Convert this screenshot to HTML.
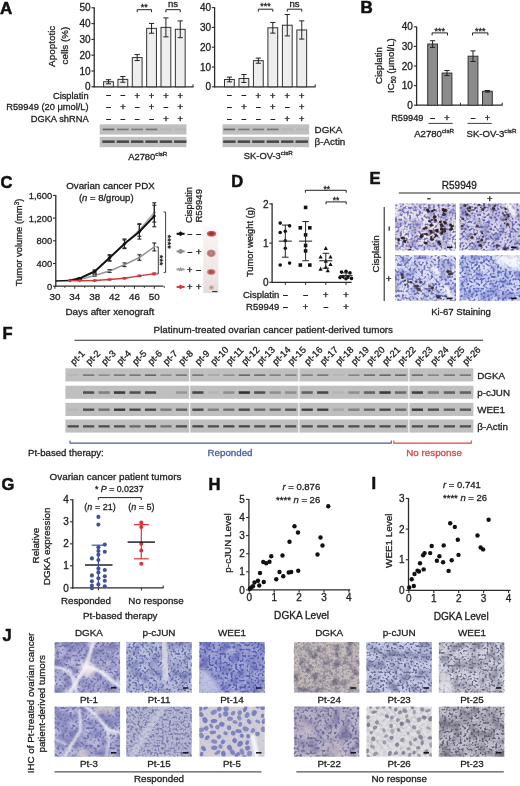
<!DOCTYPE html><html><head><meta charset="utf-8"><title>Figure</title><style>html,body{margin:0;padding:0;background:#fff;width:520px;height:786px;overflow:hidden}svg{display:block}</style></head><body><svg width="520" height="786" viewBox="0 0 520 786" font-family='"Liberation Sans", Arial, sans-serif' fill="#222"><defs><filter id="t1" x="0" y="0" width="1" height="1" color-interpolation-filters="sRGB"><feTurbulence type="fractalNoise" baseFrequency="0.42" numOctaves="1" seed="3" result="nL0"/><feColorMatrix in="nL0" type="matrix" values="0 0 0 0 0.314 0 0 0 0 0.345 0 0 0 0 0.686 5.5 0 0 0 -2.6" result="L0"/><feTurbulence type="fractalNoise" baseFrequency="0.1" numOctaves="2" seed="53" result="nL1"/><feColorMatrix in="nL1" type="matrix" values="0 0 0 0 0.314 0 0 0 0 0.345 0 0 0 0 0.686 1.5 0 0 0 -0.6" result="L1"/><feMerge result="m"><feMergeNode in="SourceGraphic"/><feMergeNode in="L0"/><feMergeNode in="L1"/></feMerge><feGaussianBlur in="m" stdDeviation="0.55"/></filter><clipPath id="c1"><rect x="395.00" y="203.40" width="61.00" height="47.00"/></clipPath><filter id="ct1" x="0" y="0" width="1" height="1" color-interpolation-filters="sRGB"><feComponentTransfer><feFuncR type="linear" slope="0.8" intercept="0.1979"/><feFuncG type="linear" slope="0.8" intercept="0.1756"/><feFuncB type="linear" slope="0.8" intercept="0.1699"/></feComponentTransfer></filter><filter id="t2" x="0" y="0" width="1" height="1" color-interpolation-filters="sRGB"><feTurbulence type="fractalNoise" baseFrequency="0.42" numOctaves="1" seed="5" result="nL0"/><feColorMatrix in="nL0" type="matrix" values="0 0 0 0 0.314 0 0 0 0 0.345 0 0 0 0 0.686 5.5 0 0 0 -2.6" result="L0"/><feTurbulence type="fractalNoise" baseFrequency="0.1" numOctaves="2" seed="55" result="nL1"/><feColorMatrix in="nL1" type="matrix" values="0 0 0 0 0.314 0 0 0 0 0.345 0 0 0 0 0.686 1.5 0 0 0 -0.6" result="L1"/><feMerge result="m"><feMergeNode in="SourceGraphic"/><feMergeNode in="L0"/><feMergeNode in="L1"/></feMerge><feGaussianBlur in="m" stdDeviation="0.55"/></filter><clipPath id="c2"><rect x="459.40" y="203.40" width="60.60" height="47.00"/></clipPath><filter id="ct2" x="0" y="0" width="1" height="1" color-interpolation-filters="sRGB"><feComponentTransfer><feFuncR type="linear" slope="0.8" intercept="0.1463"/><feFuncG type="linear" slope="0.8" intercept="0.1244"/><feFuncB type="linear" slope="0.8" intercept="0.1483"/></feComponentTransfer></filter><filter id="t3" x="0" y="0" width="1" height="1" color-interpolation-filters="sRGB"><feTurbulence type="fractalNoise" baseFrequency="0.42" numOctaves="1" seed="8" result="nL0"/><feColorMatrix in="nL0" type="matrix" values="0 0 0 0 0.314 0 0 0 0 0.345 0 0 0 0 0.686 5.5 0 0 0 -2.6" result="L0"/><feTurbulence type="fractalNoise" baseFrequency="0.1" numOctaves="2" seed="58" result="nL1"/><feColorMatrix in="nL1" type="matrix" values="0 0 0 0 0.314 0 0 0 0 0.345 0 0 0 0 0.686 1.5 0 0 0 -0.6" result="L1"/><feMerge result="m"><feMergeNode in="SourceGraphic"/><feMergeNode in="L0"/><feMergeNode in="L1"/></feMerge><feGaussianBlur in="m" stdDeviation="0.55"/></filter><clipPath id="c3"><rect x="395.00" y="255.20" width="61.00" height="45.60"/></clipPath><filter id="ct3" x="0" y="0" width="1" height="1" color-interpolation-filters="sRGB"><feComponentTransfer><feFuncR type="linear" slope="0.8" intercept="0.1682"/><feFuncG type="linear" slope="0.8" intercept="0.1696"/><feFuncB type="linear" slope="0.8" intercept="0.1915"/></feComponentTransfer></filter><filter id="t4" x="0" y="0" width="1" height="1" color-interpolation-filters="sRGB"><feTurbulence type="fractalNoise" baseFrequency="0.42" numOctaves="1" seed="9" result="nL0"/><feColorMatrix in="nL0" type="matrix" values="0 0 0 0 0.314 0 0 0 0 0.345 0 0 0 0 0.686 5.5 0 0 0 -2.6" result="L0"/><feTurbulence type="fractalNoise" baseFrequency="0.1" numOctaves="2" seed="59" result="nL1"/><feColorMatrix in="nL1" type="matrix" values="0 0 0 0 0.314 0 0 0 0 0.345 0 0 0 0 0.686 1.5 0 0 0 -0.6" result="L1"/><feMerge result="m"><feMergeNode in="SourceGraphic"/><feMergeNode in="L0"/><feMergeNode in="L1"/></feMerge><feGaussianBlur in="m" stdDeviation="0.55"/></filter><clipPath id="c4"><rect x="459.40" y="255.20" width="60.60" height="45.60"/></clipPath><filter id="ct4" x="0" y="0" width="1" height="1" color-interpolation-filters="sRGB"><feComponentTransfer><feFuncR type="linear" slope="0.8" intercept="0.1179"/><feFuncG type="linear" slope="0.8" intercept="0.1370"/><feFuncB type="linear" slope="0.8" intercept="0.1938"/></feComponentTransfer></filter><filter id="t5" x="0" y="0" width="1" height="1" color-interpolation-filters="sRGB"><feTurbulence type="fractalNoise" baseFrequency="0.07" numOctaves="2" seed="51" result="nL0"/><feColorMatrix in="nL0" type="matrix" values="0 0 0 0 0.412 0 0 0 0 0.412 0 0 0 0 0.647 2.2 0 0 0 -0.9" result="L0"/><feTurbulence type="fractalNoise" baseFrequency="0.42" numOctaves="1" seed="21" result="nL1"/><feColorMatrix in="nL1" type="matrix" values="0 0 0 0 0.275 0 0 0 0 0.282 0 0 0 0 0.549 6.0 0 0 0 -3.0" result="L1"/><feTurbulence type="fractalNoise" baseFrequency="0.1" numOctaves="2" seed="121" result="nL2"/><feColorMatrix in="nL2" type="matrix" values="0 0 0 0 0.275 0 0 0 0 0.282 0 0 0 0 0.549 1.8 0 0 0 -0.7" result="L2"/><feMerge result="m"><feMergeNode in="SourceGraphic"/><feMergeNode in="L0"/><feMergeNode in="L1"/><feMergeNode in="L2"/></feMerge><feGaussianBlur in="m" stdDeviation="0.5"/></filter><clipPath id="c5"><rect x="54.50" y="642.10" width="65.60" height="50.70"/></clipPath><filter id="ct5" x="0" y="0" width="1" height="1" color-interpolation-filters="sRGB"><feComponentTransfer><feFuncR type="linear" slope="0.62" intercept="0.2693"/><feFuncG type="linear" slope="0.62" intercept="0.2664"/><feFuncB type="linear" slope="0.62" intercept="0.3271"/></feComponentTransfer></filter><filter id="t6" x="0" y="0" width="1" height="1" color-interpolation-filters="sRGB"><feTurbulence type="fractalNoise" baseFrequency="0.45" numOctaves="1" seed="22" result="nL0"/><feColorMatrix in="nL0" type="matrix" values="0 0 0 0 0.235 0 0 0 0 0.267 0 0 0 0 0.549 6.0 0 0 0 -3.0" result="L0"/><feTurbulence type="fractalNoise" baseFrequency="0.1" numOctaves="2" seed="122" result="nL1"/><feColorMatrix in="nL1" type="matrix" values="0 0 0 0 0.235 0 0 0 0 0.267 0 0 0 0 0.549 1.8 0 0 0 -0.7" result="L1"/><feMerge result="m"><feMergeNode in="SourceGraphic"/><feMergeNode in="L0"/><feMergeNode in="L1"/></feMerge><feGaussianBlur in="m" stdDeviation="0.5"/></filter><clipPath id="c6"><rect x="126.20" y="642.10" width="65.60" height="50.70"/></clipPath><filter id="ct6" x="0" y="0" width="1" height="1" color-interpolation-filters="sRGB"><feComponentTransfer><feFuncR type="linear" slope="0.62" intercept="0.2511"/><feFuncG type="linear" slope="0.62" intercept="0.2583"/><feFuncB type="linear" slope="0.62" intercept="0.3199"/></feComponentTransfer></filter><filter id="t7" x="0" y="0" width="1" height="1" color-interpolation-filters="sRGB"><feTurbulence type="fractalNoise" baseFrequency="0.45" numOctaves="1" seed="23" result="nL0"/><feColorMatrix in="nL0" type="matrix" values="0 0 0 0 0.235 0 0 0 0 0.267 0 0 0 0 0.647 6.0 0 0 0 -3.0" result="L0"/><feTurbulence type="fractalNoise" baseFrequency="0.1" numOctaves="2" seed="123" result="nL1"/><feColorMatrix in="nL1" type="matrix" values="0 0 0 0 0.235 0 0 0 0 0.267 0 0 0 0 0.647 1.8 0 0 0 -0.7" result="L1"/><feMerge result="m"><feMergeNode in="SourceGraphic"/><feMergeNode in="L0"/><feMergeNode in="L1"/></feMerge><feGaussianBlur in="m" stdDeviation="0.5"/></filter><clipPath id="c7"><rect x="199.20" y="642.10" width="65.60" height="50.70"/></clipPath><filter id="ct7" x="0" y="0" width="1" height="1" color-interpolation-filters="sRGB"><feComponentTransfer><feFuncR type="linear" slope="0.62" intercept="0.1947"/><feFuncG type="linear" slope="0.62" intercept="0.1990"/><feFuncB type="linear" slope="0.62" intercept="0.2865"/></feComponentTransfer></filter><filter id="t8" x="0" y="0" width="1" height="1" color-interpolation-filters="sRGB"><feTurbulence type="fractalNoise" baseFrequency="0.15" numOctaves="3" seed="24" result="nL0"/><feColorMatrix in="nL0" type="matrix" values="0 0 0 0 0.463 0 0 0 0 0.424 0 0 0 0 0.518 3.4 0 0 0 -1.55" result="L0"/><feTurbulence type="fractalNoise" baseFrequency="0.45" numOctaves="2" seed="34" result="nL1"/><feColorMatrix in="nL1" type="matrix" values="0 0 0 0 0.549 0 0 0 0 0.510 0 0 0 0 0.569 3.0 0 0 0 -1.45" result="L1"/><feMerge result="m"><feMergeNode in="SourceGraphic"/><feMergeNode in="L0"/><feMergeNode in="L1"/></feMerge><feGaussianBlur in="m" stdDeviation="0.5"/></filter><clipPath id="c8"><rect x="293.80" y="642.10" width="65.60" height="50.70"/></clipPath><filter id="ct8" x="0" y="0" width="1" height="1" color-interpolation-filters="sRGB"><feComponentTransfer><feFuncR type="linear" slope="0.8" intercept="0.0886"/><feFuncG type="linear" slope="0.8" intercept="0.0961"/><feFuncB type="linear" slope="0.8" intercept="0.1113"/></feComponentTransfer></filter><filter id="t9" x="0" y="0" width="1" height="1" color-interpolation-filters="sRGB"><feTurbulence type="fractalNoise" baseFrequency="0.46" numOctaves="1" seed="25" result="nL0"/><feColorMatrix in="nL0" type="matrix" values="0 0 0 0 0.196 0 0 0 0 0.216 0 0 0 0 0.392 6.0 0 0 0 -3.0" result="L0"/><feTurbulence type="fractalNoise" baseFrequency="0.1" numOctaves="2" seed="125" result="nL1"/><feColorMatrix in="nL1" type="matrix" values="0 0 0 0 0.196 0 0 0 0 0.216 0 0 0 0 0.392 1.8 0 0 0 -0.7" result="L1"/><feMerge result="m"><feMergeNode in="SourceGraphic"/><feMergeNode in="L0"/><feMergeNode in="L1"/></feMerge><feGaussianBlur in="m" stdDeviation="0.5"/></filter><clipPath id="c9"><rect x="366.30" y="642.10" width="65.60" height="50.70"/></clipPath><filter id="ct9" x="0" y="0" width="1" height="1" color-interpolation-filters="sRGB"><feComponentTransfer><feFuncR type="linear" slope="0.62" intercept="0.2820"/><feFuncG type="linear" slope="0.62" intercept="0.2870"/><feFuncB type="linear" slope="0.62" intercept="0.3382"/></feComponentTransfer></filter><filter id="t10" x="0" y="0" width="1" height="1" color-interpolation-filters="sRGB"><feTurbulence type="fractalNoise" baseFrequency="0.46" numOctaves="1" seed="26" result="nL0"/><feColorMatrix in="nL0" type="matrix" values="0 0 0 0 0.196 0 0 0 0 0.196 0 0 0 0 0.275 6.0 0 0 0 -3.0" result="L0"/><feTurbulence type="fractalNoise" baseFrequency="0.1" numOctaves="2" seed="126" result="nL1"/><feColorMatrix in="nL1" type="matrix" values="0 0 0 0 0.196 0 0 0 0 0.196 0 0 0 0 0.275 1.8 0 0 0 -0.7" result="L1"/><feMerge result="m"><feMergeNode in="SourceGraphic"/><feMergeNode in="L0"/><feMergeNode in="L1"/></feMerge><feGaussianBlur in="m" stdDeviation="0.5"/></filter><clipPath id="c10"><rect x="438.80" y="642.10" width="65.60" height="50.70"/></clipPath><filter id="ct10" x="0" y="0" width="1" height="1" color-interpolation-filters="sRGB"><feComponentTransfer><feFuncR type="linear" slope="0.62" intercept="0.3072"/><feFuncG type="linear" slope="0.62" intercept="0.3072"/><feFuncB type="linear" slope="0.62" intercept="0.3434"/></feComponentTransfer></filter><filter id="t11" x="0" y="0" width="1" height="1" color-interpolation-filters="sRGB"><feTurbulence type="fractalNoise" baseFrequency="0.07" numOctaves="2" seed="52" result="nL0"/><feColorMatrix in="nL0" type="matrix" values="0 0 0 0 0.412 0 0 0 0 0.412 0 0 0 0 0.667 2.2 0 0 0 -0.9" result="L0"/><feTurbulence type="fractalNoise" baseFrequency="0.4" numOctaves="1" seed="27" result="nL1"/><feColorMatrix in="nL1" type="matrix" values="0 0 0 0 0.294 0 0 0 0 0.306 0 0 0 0 0.588 6.0 0 0 0 -3.0" result="L1"/><feTurbulence type="fractalNoise" baseFrequency="0.1" numOctaves="2" seed="127" result="nL2"/><feColorMatrix in="nL2" type="matrix" values="0 0 0 0 0.294 0 0 0 0 0.306 0 0 0 0 0.588 1.8 0 0 0 -0.7" result="L2"/><feMerge result="m"><feMergeNode in="SourceGraphic"/><feMergeNode in="L0"/><feMergeNode in="L1"/><feMergeNode in="L2"/></feMerge><feGaussianBlur in="m" stdDeviation="0.5"/></filter><clipPath id="c11"><rect x="54.50" y="706.40" width="65.60" height="50.40"/></clipPath><filter id="ct11" x="0" y="0" width="1" height="1" color-interpolation-filters="sRGB"><feComponentTransfer><feFuncR type="linear" slope="0.62" intercept="0.2645"/><feFuncG type="linear" slope="0.62" intercept="0.2643"/><feFuncB type="linear" slope="0.62" intercept="0.3197"/></feComponentTransfer></filter><filter id="t12" x="0" y="0" width="1" height="1" color-interpolation-filters="sRGB"><feTurbulence type="fractalNoise" baseFrequency="0.42" numOctaves="2" seed="28" result="nL0"/><feColorMatrix in="nL0" type="matrix" values="0 0 0 0 0.373 0 0 0 0 0.392 0 0 0 0 0.608 3.4 0 0 0 -1.5" result="L0"/><feMerge result="m"><feMergeNode in="SourceGraphic"/><feMergeNode in="L0"/></feMerge><feGaussianBlur in="m" stdDeviation="0.5"/></filter><clipPath id="c12"><rect x="126.20" y="706.40" width="65.60" height="50.40"/></clipPath><filter id="ct12" x="0" y="0" width="1" height="1" color-interpolation-filters="sRGB"><feComponentTransfer><feFuncR type="linear" slope="0.62" intercept="0.2235"/><feFuncG type="linear" slope="0.62" intercept="0.2262"/><feFuncB type="linear" slope="0.62" intercept="0.2850"/></feComponentTransfer></filter><filter id="t13" x="0" y="0" width="1" height="1" color-interpolation-filters="sRGB"><feTurbulence type="fractalNoise" baseFrequency="0.45" numOctaves="2" seed="39" result="nL0"/><feColorMatrix in="nL0" type="matrix" values="0 0 0 0 0.784 0 0 0 0 0.765 0 0 0 0 0.804 2.0 0 0 0 -0.9" result="L0"/><feMerge result="m"><feMergeNode in="SourceGraphic"/><feMergeNode in="L0"/></feMerge><feGaussianBlur in="m" stdDeviation="0.5"/></filter><clipPath id="c13"><rect x="199.20" y="706.40" width="65.60" height="50.40"/></clipPath><filter id="ct13" x="0" y="0" width="1" height="1" color-interpolation-filters="sRGB"><feComponentTransfer><feFuncR type="linear" slope="0.85" intercept="0.0924"/><feFuncG type="linear" slope="0.85" intercept="0.0943"/><feFuncB type="linear" slope="0.85" intercept="0.1246"/></feComponentTransfer></filter><filter id="t14" x="0" y="0" width="1" height="1" color-interpolation-filters="sRGB"><feTurbulence type="fractalNoise" baseFrequency="0.4" numOctaves="1" seed="30" result="nL0"/><feColorMatrix in="nL0" type="matrix" values="0 0 0 0 0.314 0 0 0 0 0.306 0 0 0 0 0.529 6.0 0 0 0 -3.0" result="L0"/><feTurbulence type="fractalNoise" baseFrequency="0.1" numOctaves="2" seed="130" result="nL1"/><feColorMatrix in="nL1" type="matrix" values="0 0 0 0 0.314 0 0 0 0 0.306 0 0 0 0 0.529 1.8 0 0 0 -0.7" result="L1"/><feMerge result="m"><feMergeNode in="SourceGraphic"/><feMergeNode in="L0"/><feMergeNode in="L1"/></feMerge><feGaussianBlur in="m" stdDeviation="0.5"/></filter><clipPath id="c14"><rect x="293.80" y="706.40" width="65.60" height="50.40"/></clipPath><filter id="ct14" x="0" y="0" width="1" height="1" color-interpolation-filters="sRGB"><feComponentTransfer><feFuncR type="linear" slope="0.62" intercept="0.2499"/><feFuncG type="linear" slope="0.62" intercept="0.2410"/><feFuncB type="linear" slope="0.62" intercept="0.2760"/></feComponentTransfer></filter><filter id="t15" x="0" y="0" width="1" height="1" color-interpolation-filters="sRGB"><feTurbulence type="fractalNoise" baseFrequency="0.3" numOctaves="2" seed="31" result="nL0"/><feColorMatrix in="nL0" type="matrix" values="0 0 0 0 0.745 0 0 0 0 0.745 0 0 0 0 0.784 2.0 0 0 0 -0.8" result="L0"/><feMerge result="m"><feMergeNode in="SourceGraphic"/><feMergeNode in="L0"/></feMerge><feGaussianBlur in="m" stdDeviation="0.5"/></filter><clipPath id="c15"><rect x="366.30" y="706.40" width="65.60" height="50.40"/></clipPath><filter id="ct15" x="0" y="0" width="1" height="1" color-interpolation-filters="sRGB"><feComponentTransfer><feFuncR type="linear" slope="0.85" intercept="0.0957"/><feFuncG type="linear" slope="0.85" intercept="0.0957"/><feFuncB type="linear" slope="0.85" intercept="0.0976"/></feComponentTransfer></filter><filter id="t16" x="0" y="0" width="1" height="1" color-interpolation-filters="sRGB"><feTurbulence type="fractalNoise" baseFrequency="0.45" numOctaves="1" seed="32" result="nL0"/><feColorMatrix in="nL0" type="matrix" values="0 0 0 0 0.216 0 0 0 0 0.196 0 0 0 0 0.275 6.0 0 0 0 -3.0" result="L0"/><feTurbulence type="fractalNoise" baseFrequency="0.1" numOctaves="2" seed="132" result="nL1"/><feColorMatrix in="nL1" type="matrix" values="0 0 0 0 0.216 0 0 0 0 0.196 0 0 0 0 0.275 1.8 0 0 0 -0.7" result="L1"/><feMerge result="m"><feMergeNode in="SourceGraphic"/><feMergeNode in="L0"/><feMergeNode in="L1"/></feMerge><feGaussianBlur in="m" stdDeviation="0.5"/></filter><clipPath id="c16"><rect x="438.80" y="706.40" width="65.60" height="50.40"/></clipPath><filter id="ct16" x="0" y="0" width="1" height="1" color-interpolation-filters="sRGB"><feComponentTransfer><feFuncR type="linear" slope="0.62" intercept="0.2567"/><feFuncG type="linear" slope="0.62" intercept="0.2542"/><feFuncB type="linear" slope="0.62" intercept="0.2801"/></feComponentTransfer></filter><filter id="bl" x="-5%" y="-20%" width="110%" height="140%"><feGaussianBlur stdDeviation="0.35"/></filter><filter id="bb" x="-30%" y="-150%" width="160%" height="400%"><feGaussianBlur stdDeviation="0.55 0.45"/></filter><filter id="sblur" x="-50%" y="-50%" width="200%" height="200%"><feGaussianBlur stdDeviation="0.8"/></filter><filter id="nblur" x="-10%" y="-10%" width="120%" height="120%"><feGaussianBlur stdDeviation="0.35"/></filter><filter id="pblur" x="-50%" y="-50%" width="200%" height="200%"><feGaussianBlur stdDeviation="2"/></filter><linearGradient id="strip" x1="0" y1="0" x2="0" y2="1"><stop offset="0" stop-color="#fdfafa"/><stop offset="0.2" stop-color="#f8f1f0"/><stop offset="0.75" stop-color="#eee6e4"/><stop offset="1" stop-color="#e2dbe0"/></linearGradient><radialGradient id="tum1"><stop offset="0" stop-color="#9a2020"/><stop offset="0.6" stop-color="#b84040"/><stop offset="1" stop-color="#d08080"/></radialGradient><radialGradient id="tum2"><stop offset="0" stop-color="#c89090"/><stop offset="0.6" stop-color="#b57070"/><stop offset="1" stop-color="#caa0a0"/></radialGradient><radialGradient id="tum3"><stop offset="0" stop-color="#a84040"/><stop offset="0.6" stop-color="#bb5a5a"/><stop offset="1" stop-color="#d49a9a"/></radialGradient><radialGradient id="tum4"><stop offset="0" stop-color="#b89070"/><stop offset="1" stop-color="#dcc0a8"/></radialGradient></defs><text x="0.00" y="14.20" font-size="17" fill="#111" stroke="#111" stroke-width="0.55" font-weight="bold">A</text>
<text x="54.70" y="46.30" font-size="9.9" text-anchor="middle" stroke="#222" stroke-width="0.3" transform="rotate(-90 54.70 46.30)">Apoptotic</text>
<text x="68.00" y="45.60" font-size="9.8" text-anchor="middle" stroke="#222" stroke-width="0.3" transform="rotate(-90 68.00 45.60)">cells (%)</text>
<line x1="94.20" y1="7.20" x2="94.20" y2="87.30" stroke="#2a2a2a" stroke-width="1.3"/>
<line x1="93.60" y1="86.80" x2="193.50" y2="86.80" stroke="#2a2a2a" stroke-width="1.3"/>
<line x1="193.00" y1="86.80" x2="193.00" y2="84.30" stroke="#2a2a2a" stroke-width="1"/>
<line x1="91.40" y1="86.80" x2="94.20" y2="86.80" stroke="#2a2a2a" stroke-width="1.1"/>
<text x="90.60" y="90.40" font-size="10" text-anchor="end" stroke="#222" stroke-width="0.3">0</text>
<line x1="91.40" y1="71.00" x2="94.20" y2="71.00" stroke="#2a2a2a" stroke-width="1.1"/>
<text x="90.60" y="74.60" font-size="10" text-anchor="end" stroke="#222" stroke-width="0.3">10</text>
<line x1="91.40" y1="55.20" x2="94.20" y2="55.20" stroke="#2a2a2a" stroke-width="1.1"/>
<text x="90.60" y="58.80" font-size="10" text-anchor="end" stroke="#222" stroke-width="0.3">20</text>
<line x1="91.40" y1="39.40" x2="94.20" y2="39.40" stroke="#2a2a2a" stroke-width="1.1"/>
<text x="90.60" y="43.00" font-size="10" text-anchor="end" stroke="#222" stroke-width="0.3">30</text>
<line x1="91.40" y1="23.60" x2="94.20" y2="23.60" stroke="#2a2a2a" stroke-width="1.1"/>
<text x="90.60" y="27.20" font-size="10" text-anchor="end" stroke="#222" stroke-width="0.3">40</text>
<line x1="91.40" y1="7.80" x2="94.20" y2="7.80" stroke="#2a2a2a" stroke-width="1.1"/>
<text x="90.60" y="11.40" font-size="10" text-anchor="end" stroke="#222" stroke-width="0.3">50</text>
<rect x="103.60" y="81.74" width="9.80" height="5.06" fill="#eeeeee" stroke="#333" stroke-width="1"/>
<line x1="108.50" y1="79.69" x2="108.50" y2="83.80" stroke="#222" stroke-width="1"/>
<line x1="105.90" y1="79.69" x2="111.10" y2="79.69" stroke="#222" stroke-width="1"/>
<line x1="105.90" y1="83.80" x2="111.10" y2="83.80" stroke="#222" stroke-width="1"/>
<rect x="117.95" y="79.37" width="9.80" height="7.43" fill="#eeeeee" stroke="#333" stroke-width="1"/>
<line x1="122.85" y1="76.53" x2="122.85" y2="82.22" stroke="#222" stroke-width="1"/>
<line x1="120.25" y1="76.53" x2="125.45" y2="76.53" stroke="#222" stroke-width="1"/>
<line x1="120.25" y1="82.22" x2="125.45" y2="82.22" stroke="#222" stroke-width="1"/>
<rect x="132.30" y="57.57" width="9.80" height="29.23" fill="#eeeeee" stroke="#333" stroke-width="1"/>
<line x1="137.20" y1="54.57" x2="137.20" y2="60.57" stroke="#222" stroke-width="1"/>
<line x1="134.60" y1="54.57" x2="139.80" y2="54.57" stroke="#222" stroke-width="1"/>
<line x1="134.60" y1="60.57" x2="139.80" y2="60.57" stroke="#222" stroke-width="1"/>
<rect x="146.65" y="28.34" width="9.80" height="58.46" fill="#eeeeee" stroke="#333" stroke-width="1"/>
<line x1="151.55" y1="23.44" x2="151.55" y2="33.24" stroke="#222" stroke-width="1"/>
<line x1="148.95" y1="23.44" x2="154.15" y2="23.44" stroke="#222" stroke-width="1"/>
<line x1="148.95" y1="33.24" x2="154.15" y2="33.24" stroke="#222" stroke-width="1"/>
<rect x="161.00" y="27.39" width="9.80" height="59.41" fill="#eeeeee" stroke="#333" stroke-width="1"/>
<line x1="165.90" y1="17.91" x2="165.90" y2="36.87" stroke="#222" stroke-width="1"/>
<line x1="163.30" y1="17.91" x2="168.50" y2="17.91" stroke="#222" stroke-width="1"/>
<line x1="163.30" y1="36.87" x2="168.50" y2="36.87" stroke="#222" stroke-width="1"/>
<rect x="175.35" y="29.29" width="9.80" height="57.51" fill="#eeeeee" stroke="#333" stroke-width="1"/>
<line x1="180.25" y1="20.91" x2="180.25" y2="37.66" stroke="#222" stroke-width="1"/>
<line x1="177.65" y1="20.91" x2="182.85" y2="20.91" stroke="#222" stroke-width="1"/>
<line x1="177.65" y1="37.66" x2="182.85" y2="37.66" stroke="#222" stroke-width="1"/>
<polyline points="137.20,12.20 137.20,9.70 151.55,9.70 151.55,12.20" fill="none" stroke="#222" stroke-width="1"/>
<text x="144.38" y="9.80" font-size="9" text-anchor="middle" stroke="#222" stroke-width="0.3">**</text>
<polyline points="165.90,12.20 165.90,9.70 180.25,9.70 180.25,12.20" fill="none" stroke="#222" stroke-width="1"/>
<text x="173.07" y="7.30" font-size="9.6" text-anchor="middle" stroke="#222" stroke-width="0.3">ns</text>
<line x1="214.60" y1="7.20" x2="214.60" y2="87.30" stroke="#2a2a2a" stroke-width="1.3"/>
<line x1="214.00" y1="86.80" x2="315.60" y2="86.80" stroke="#2a2a2a" stroke-width="1.3"/>
<line x1="315.20" y1="86.80" x2="315.20" y2="84.30" stroke="#2a2a2a" stroke-width="1"/>
<line x1="211.80" y1="86.80" x2="214.60" y2="86.80" stroke="#2a2a2a" stroke-width="1.1"/>
<text x="211.00" y="90.40" font-size="10" text-anchor="end" stroke="#222" stroke-width="0.3">0</text>
<line x1="211.80" y1="67.00" x2="214.60" y2="67.00" stroke="#2a2a2a" stroke-width="1.1"/>
<text x="211.00" y="70.60" font-size="10" text-anchor="end" stroke="#222" stroke-width="0.3">10</text>
<line x1="211.80" y1="47.20" x2="214.60" y2="47.20" stroke="#2a2a2a" stroke-width="1.1"/>
<text x="211.00" y="50.80" font-size="10" text-anchor="end" stroke="#222" stroke-width="0.3">20</text>
<line x1="211.80" y1="27.40" x2="214.60" y2="27.40" stroke="#2a2a2a" stroke-width="1.1"/>
<text x="211.00" y="31.00" font-size="10" text-anchor="end" stroke="#222" stroke-width="0.3">30</text>
<line x1="211.80" y1="7.60" x2="214.60" y2="7.60" stroke="#2a2a2a" stroke-width="1.1"/>
<text x="211.00" y="11.20" font-size="10" text-anchor="end" stroke="#222" stroke-width="0.3">40</text>
<rect x="224.50" y="79.47" width="9.80" height="7.33" fill="#eeeeee" stroke="#333" stroke-width="1"/>
<line x1="229.40" y1="77.10" x2="229.40" y2="81.85" stroke="#222" stroke-width="1"/>
<line x1="226.80" y1="77.10" x2="232.00" y2="77.10" stroke="#222" stroke-width="1"/>
<line x1="226.80" y1="81.85" x2="232.00" y2="81.85" stroke="#222" stroke-width="1"/>
<rect x="238.97" y="78.48" width="9.80" height="8.32" fill="#eeeeee" stroke="#333" stroke-width="1"/>
<line x1="243.87" y1="74.52" x2="243.87" y2="82.44" stroke="#222" stroke-width="1"/>
<line x1="241.27" y1="74.52" x2="246.47" y2="74.52" stroke="#222" stroke-width="1"/>
<line x1="241.27" y1="82.44" x2="246.47" y2="82.44" stroke="#222" stroke-width="1"/>
<rect x="253.44" y="60.66" width="9.80" height="26.14" fill="#eeeeee" stroke="#333" stroke-width="1"/>
<line x1="258.34" y1="58.09" x2="258.34" y2="63.24" stroke="#222" stroke-width="1"/>
<line x1="255.74" y1="58.09" x2="260.94" y2="58.09" stroke="#222" stroke-width="1"/>
<line x1="255.74" y1="63.24" x2="260.94" y2="63.24" stroke="#222" stroke-width="1"/>
<rect x="267.91" y="27.80" width="9.80" height="59.00" fill="#eeeeee" stroke="#333" stroke-width="1"/>
<line x1="272.81" y1="22.45" x2="272.81" y2="33.14" stroke="#222" stroke-width="1"/>
<line x1="270.21" y1="22.45" x2="275.41" y2="22.45" stroke="#222" stroke-width="1"/>
<line x1="270.21" y1="33.14" x2="275.41" y2="33.14" stroke="#222" stroke-width="1"/>
<rect x="282.38" y="25.22" width="9.80" height="61.58" fill="#eeeeee" stroke="#333" stroke-width="1"/>
<line x1="287.28" y1="14.53" x2="287.28" y2="35.91" stroke="#222" stroke-width="1"/>
<line x1="284.68" y1="14.53" x2="289.88" y2="14.53" stroke="#222" stroke-width="1"/>
<line x1="284.68" y1="35.91" x2="289.88" y2="35.91" stroke="#222" stroke-width="1"/>
<rect x="296.85" y="29.97" width="9.80" height="56.83" fill="#eeeeee" stroke="#333" stroke-width="1"/>
<line x1="301.75" y1="20.87" x2="301.75" y2="39.08" stroke="#222" stroke-width="1"/>
<line x1="299.15" y1="20.87" x2="304.35" y2="20.87" stroke="#222" stroke-width="1"/>
<line x1="299.15" y1="39.08" x2="304.35" y2="39.08" stroke="#222" stroke-width="1"/>
<polyline points="258.34,11.70 258.34,9.20 272.81,9.20 272.81,11.70" fill="none" stroke="#222" stroke-width="1"/>
<text x="265.57" y="9.00" font-size="9" text-anchor="middle" stroke="#222" stroke-width="0.3">***</text>
<polyline points="287.28,11.70 287.28,9.20 301.75,9.20 301.75,11.70" fill="none" stroke="#222" stroke-width="1"/>
<text x="294.51" y="6.90" font-size="9.6" text-anchor="middle" stroke="#222" stroke-width="0.3">ns</text>
<text x="88.60" y="98.60" font-size="9.3" text-anchor="end" stroke="#222" stroke-width="0.3">Cisplatin</text>
<text x="108.50" y="97.40" font-size="7.63" text-anchor="middle" stroke="#222" stroke-width="0.45">–</text>
<text x="122.85" y="97.40" font-size="7.63" text-anchor="middle" stroke="#222" stroke-width="0.45">–</text>
<text x="137.20" y="98.60" font-size="9.3" text-anchor="middle" stroke="#222" stroke-width="0.4">+</text>
<text x="151.55" y="98.60" font-size="9.3" text-anchor="middle" stroke="#222" stroke-width="0.4">+</text>
<text x="165.90" y="98.60" font-size="9.3" text-anchor="middle" stroke="#222" stroke-width="0.4">+</text>
<text x="180.25" y="98.60" font-size="9.3" text-anchor="middle" stroke="#222" stroke-width="0.4">+</text>
<text x="229.40" y="97.40" font-size="7.63" text-anchor="middle" stroke="#222" stroke-width="0.45">–</text>
<text x="243.87" y="97.40" font-size="7.63" text-anchor="middle" stroke="#222" stroke-width="0.45">–</text>
<text x="258.34" y="98.60" font-size="9.3" text-anchor="middle" stroke="#222" stroke-width="0.4">+</text>
<text x="272.81" y="98.60" font-size="9.3" text-anchor="middle" stroke="#222" stroke-width="0.4">+</text>
<text x="287.28" y="98.60" font-size="9.3" text-anchor="middle" stroke="#222" stroke-width="0.4">+</text>
<text x="301.75" y="98.60" font-size="9.3" text-anchor="middle" stroke="#222" stroke-width="0.4">+</text>
<text x="88.60" y="110.40" font-size="9.3" text-anchor="end" stroke="#222" stroke-width="0.3">R59949 (20 μmol/L)</text>
<text x="108.50" y="109.20" font-size="7.63" text-anchor="middle" stroke="#222" stroke-width="0.45">–</text>
<text x="122.85" y="110.40" font-size="9.3" text-anchor="middle" stroke="#222" stroke-width="0.4">+</text>
<text x="137.20" y="109.20" font-size="7.63" text-anchor="middle" stroke="#222" stroke-width="0.45">–</text>
<text x="151.55" y="110.40" font-size="9.3" text-anchor="middle" stroke="#222" stroke-width="0.4">+</text>
<text x="165.90" y="109.20" font-size="7.63" text-anchor="middle" stroke="#222" stroke-width="0.45">–</text>
<text x="180.25" y="110.40" font-size="9.3" text-anchor="middle" stroke="#222" stroke-width="0.4">+</text>
<text x="229.40" y="109.20" font-size="7.63" text-anchor="middle" stroke="#222" stroke-width="0.45">–</text>
<text x="243.87" y="110.40" font-size="9.3" text-anchor="middle" stroke="#222" stroke-width="0.4">+</text>
<text x="258.34" y="109.20" font-size="7.63" text-anchor="middle" stroke="#222" stroke-width="0.45">–</text>
<text x="272.81" y="110.40" font-size="9.3" text-anchor="middle" stroke="#222" stroke-width="0.4">+</text>
<text x="287.28" y="109.20" font-size="7.63" text-anchor="middle" stroke="#222" stroke-width="0.45">–</text>
<text x="301.75" y="110.40" font-size="9.3" text-anchor="middle" stroke="#222" stroke-width="0.4">+</text>
<text x="88.60" y="122.20" font-size="9.3" text-anchor="end" stroke="#222" stroke-width="0.3">DGKA shRNA</text>
<text x="108.50" y="121.00" font-size="7.63" text-anchor="middle" stroke="#222" stroke-width="0.45">–</text>
<text x="122.85" y="121.00" font-size="7.63" text-anchor="middle" stroke="#222" stroke-width="0.45">–</text>
<text x="137.20" y="121.00" font-size="7.63" text-anchor="middle" stroke="#222" stroke-width="0.45">–</text>
<text x="151.55" y="121.00" font-size="7.63" text-anchor="middle" stroke="#222" stroke-width="0.45">–</text>
<text x="165.90" y="122.20" font-size="9.3" text-anchor="middle" stroke="#222" stroke-width="0.4">+</text>
<text x="180.25" y="122.20" font-size="9.3" text-anchor="middle" stroke="#222" stroke-width="0.4">+</text>
<text x="229.40" y="121.00" font-size="7.63" text-anchor="middle" stroke="#222" stroke-width="0.45">–</text>
<text x="243.87" y="121.00" font-size="7.63" text-anchor="middle" stroke="#222" stroke-width="0.45">–</text>
<text x="258.34" y="121.00" font-size="7.63" text-anchor="middle" stroke="#222" stroke-width="0.45">–</text>
<text x="272.81" y="121.00" font-size="7.63" text-anchor="middle" stroke="#222" stroke-width="0.45">–</text>
<text x="287.28" y="122.20" font-size="9.3" text-anchor="middle" stroke="#222" stroke-width="0.4">+</text>
<text x="301.75" y="122.20" font-size="9.3" text-anchor="middle" stroke="#222" stroke-width="0.4">+</text>
<rect x="99.70" y="124.30" width="86.80" height="10.30" fill="#c0c0c0" filter="url(#bl)"/>
<rect x="99.70" y="136.80" width="86.80" height="10.40" fill="#c0c0c0" filter="url(#bl)"/>
<rect x="102.70" y="128.60" width="11.60" height="1.70" fill="rgba(40,40,40,0.6)" filter="url(#bb)"/>
<rect x="117.05" y="128.60" width="11.60" height="1.70" fill="rgba(40,40,40,0.45)" filter="url(#bb)"/>
<rect x="131.40" y="128.60" width="11.60" height="1.70" fill="rgba(40,40,40,0.45)" filter="url(#bb)"/>
<rect x="145.75" y="128.60" width="11.60" height="1.70" fill="rgba(40,40,40,0.5)" filter="url(#bb)"/>
<rect x="160.10" y="128.60" width="11.60" height="1.70" fill="rgba(40,40,40,0.06)" filter="url(#bb)"/>
<rect x="174.45" y="128.60" width="11.60" height="1.70" fill="rgba(40,40,40,0.05)" filter="url(#bb)"/>
<rect x="102.30" y="140.40" width="12.40" height="2.50" fill="rgba(35,35,35,0.78)" filter="url(#bb)"/>
<rect x="116.65" y="140.40" width="12.40" height="2.50" fill="rgba(35,35,35,0.78)" filter="url(#bb)"/>
<rect x="131.00" y="140.40" width="12.40" height="2.50" fill="rgba(35,35,35,0.78)" filter="url(#bb)"/>
<rect x="145.35" y="140.40" width="12.40" height="2.50" fill="rgba(35,35,35,0.78)" filter="url(#bb)"/>
<rect x="159.70" y="140.40" width="12.40" height="2.50" fill="rgba(35,35,35,0.78)" filter="url(#bb)"/>
<rect x="174.05" y="140.40" width="12.40" height="2.50" fill="rgba(35,35,35,0.78)" filter="url(#bb)"/>
<rect x="222.50" y="124.30" width="86.70" height="10.30" fill="#c0c0c0" filter="url(#bl)"/>
<rect x="222.50" y="136.80" width="86.70" height="10.40" fill="#c0c0c0" filter="url(#bl)"/>
<rect x="223.60" y="128.60" width="11.60" height="1.70" fill="rgba(40,40,40,0.6)" filter="url(#bb)"/>
<rect x="238.07" y="128.60" width="11.60" height="1.70" fill="rgba(40,40,40,0.45)" filter="url(#bb)"/>
<rect x="252.54" y="128.60" width="11.60" height="1.70" fill="rgba(40,40,40,0.45)" filter="url(#bb)"/>
<rect x="267.01" y="128.60" width="11.60" height="1.70" fill="rgba(40,40,40,0.5)" filter="url(#bb)"/>
<rect x="281.48" y="128.60" width="11.60" height="1.70" fill="rgba(40,40,40,0.06)" filter="url(#bb)"/>
<rect x="295.95" y="128.60" width="11.60" height="1.70" fill="rgba(40,40,40,0.05)" filter="url(#bb)"/>
<rect x="223.20" y="140.40" width="12.40" height="2.50" fill="rgba(35,35,35,0.78)" filter="url(#bb)"/>
<rect x="237.67" y="140.40" width="12.40" height="2.50" fill="rgba(35,35,35,0.78)" filter="url(#bb)"/>
<rect x="252.14" y="140.40" width="12.40" height="2.50" fill="rgba(35,35,35,0.78)" filter="url(#bb)"/>
<rect x="266.61" y="140.40" width="12.40" height="2.50" fill="rgba(35,35,35,0.78)" filter="url(#bb)"/>
<rect x="281.08" y="140.40" width="12.40" height="2.50" fill="rgba(35,35,35,0.78)" filter="url(#bb)"/>
<rect x="295.55" y="140.40" width="12.40" height="2.50" fill="rgba(35,35,35,0.78)" filter="url(#bb)"/>
<text x="314.60" y="133.20" font-size="9.8" stroke="#222" stroke-width="0.3">DGKA</text>
<text x="314.60" y="144.80" font-size="9.8" stroke="#222" stroke-width="0.3">β-Actin</text>
<text x="128.20" y="159.80" font-size="9.4" stroke="#222" stroke-width="0.3">A2780<tspan font-size="6.2" dy="-4.3">cisR</tspan></text>
<text x="243.80" y="158.90" font-size="9.4" stroke="#222" stroke-width="0.3">SK-OV-3<tspan font-size="6.2" dy="-4.3">cisR</tspan></text>
<text x="360.60" y="12.60" font-size="17" fill="#111" stroke="#111" stroke-width="0.55" font-weight="bold">B</text>
<line x1="416.60" y1="26.60" x2="416.60" y2="105.70" stroke="#2a2a2a" stroke-width="1.3"/>
<line x1="416.00" y1="105.20" x2="502.60" y2="105.20" stroke="#2a2a2a" stroke-width="1.3"/>
<line x1="460.40" y1="105.20" x2="460.40" y2="102.70" stroke="#2a2a2a" stroke-width="1"/>
<line x1="502.20" y1="105.20" x2="502.20" y2="102.70" stroke="#2a2a2a" stroke-width="1"/>
<line x1="413.80" y1="105.20" x2="416.60" y2="105.20" stroke="#2a2a2a" stroke-width="1.1"/>
<text x="412.80" y="108.80" font-size="10" text-anchor="end" stroke="#222" stroke-width="0.3">0</text>
<line x1="413.80" y1="85.60" x2="416.60" y2="85.60" stroke="#2a2a2a" stroke-width="1.1"/>
<text x="412.80" y="89.20" font-size="10" text-anchor="end" stroke="#222" stroke-width="0.3">10</text>
<line x1="413.80" y1="66.00" x2="416.60" y2="66.00" stroke="#2a2a2a" stroke-width="1.1"/>
<text x="412.80" y="69.60" font-size="10" text-anchor="end" stroke="#222" stroke-width="0.3">20</text>
<line x1="413.80" y1="46.40" x2="416.60" y2="46.40" stroke="#2a2a2a" stroke-width="1.1"/>
<text x="412.80" y="50.00" font-size="10" text-anchor="end" stroke="#222" stroke-width="0.3">30</text>
<line x1="413.80" y1="26.80" x2="416.60" y2="26.80" stroke="#2a2a2a" stroke-width="1.1"/>
<text x="412.80" y="30.40" font-size="10" text-anchor="end" stroke="#222" stroke-width="0.3">40</text>
<rect x="427.70" y="44.05" width="9.80" height="61.15" fill="#8c8c8c" stroke="#333" stroke-width="1"/>
<line x1="432.60" y1="40.72" x2="432.60" y2="47.38" stroke="#222" stroke-width="1"/>
<line x1="430.00" y1="40.72" x2="435.20" y2="40.72" stroke="#222" stroke-width="1"/>
<line x1="430.00" y1="47.38" x2="435.20" y2="47.38" stroke="#222" stroke-width="1"/>
<rect x="442.10" y="73.06" width="9.80" height="32.14" fill="#8c8c8c" stroke="#333" stroke-width="1"/>
<line x1="447.00" y1="70.51" x2="447.00" y2="75.60" stroke="#222" stroke-width="1"/>
<line x1="444.40" y1="70.51" x2="449.60" y2="70.51" stroke="#222" stroke-width="1"/>
<line x1="444.40" y1="75.60" x2="449.60" y2="75.60" stroke="#222" stroke-width="1"/>
<rect x="468.10" y="56.20" width="9.80" height="49.00" fill="#8c8c8c" stroke="#333" stroke-width="1"/>
<line x1="473.00" y1="50.91" x2="473.00" y2="61.49" stroke="#222" stroke-width="1"/>
<line x1="470.40" y1="50.91" x2="475.60" y2="50.91" stroke="#222" stroke-width="1"/>
<line x1="470.40" y1="61.49" x2="475.60" y2="61.49" stroke="#222" stroke-width="1"/>
<rect x="482.50" y="91.28" width="9.80" height="13.92" fill="#8c8c8c" stroke="#333" stroke-width="1"/>
<line x1="487.40" y1="90.50" x2="487.40" y2="92.07" stroke="#222" stroke-width="1"/>
<line x1="484.80" y1="90.50" x2="490.00" y2="90.50" stroke="#222" stroke-width="1"/>
<line x1="484.80" y1="92.07" x2="490.00" y2="92.07" stroke="#222" stroke-width="1"/>
<polyline points="432.10,35.40 432.10,32.90 447.50,32.90 447.50,35.40" fill="none" stroke="#222" stroke-width="1"/>
<text x="439.80" y="33.60" font-size="9" text-anchor="middle" stroke="#222" stroke-width="0.3">***</text>
<polyline points="472.50,35.40 472.50,32.90 487.90,32.90 487.90,35.40" fill="none" stroke="#222" stroke-width="1"/>
<text x="480.20" y="33.60" font-size="9" text-anchor="middle" stroke="#222" stroke-width="0.3">***</text>
<text x="382.20" y="65.60" font-size="9.6" text-anchor="middle" stroke="#222" stroke-width="0.3" transform="rotate(-90 382.20 65.60)">Cisplatin</text>
<text x="394.40" y="65.60" font-size="9.6" text-anchor="middle" stroke="#222" stroke-width="0.3" transform="rotate(-90 394.40 65.60)">IC<tspan font-size="6.3" dy="2">50</tspan><tspan dy="-2"> (μmol/L)</tspan></text>
<text x="423.40" y="120.80" font-size="9.2" text-anchor="end" stroke="#222" stroke-width="0.3">R59949</text>
<text x="432.60" y="119.60" font-size="7.63" text-anchor="middle" stroke="#222" stroke-width="0.45">–</text>
<text x="447.00" y="120.80" font-size="9.3" text-anchor="middle" stroke="#222" stroke-width="0.4">+</text>
<text x="473.00" y="119.60" font-size="7.63" text-anchor="middle" stroke="#222" stroke-width="0.45">–</text>
<text x="487.40" y="120.80" font-size="9.3" text-anchor="middle" stroke="#222" stroke-width="0.4">+</text>
<line x1="428.50" y1="123.40" x2="452.70" y2="123.40" stroke="#2a2a2a" stroke-width="0.9"/>
<line x1="467.50" y1="123.40" x2="491.70" y2="123.40" stroke="#2a2a2a" stroke-width="0.9"/>
<text x="414.20" y="136.80" font-size="9.6" stroke="#222" stroke-width="0.3">A2780<tspan font-size="6.2" dy="-4.3">cisR</tspan></text>
<text x="466.50" y="136.80" font-size="9.6" stroke="#222" stroke-width="0.3">SK-OV-3<tspan font-size="6.2" dy="-4.3">cisR</tspan></text>
<text x="0.60" y="187.60" font-size="16.5" fill="#111" stroke="#111" stroke-width="0.55" font-weight="bold">C</text>
<text x="66.30" y="188.50" font-size="9.7" stroke="#222" stroke-width="0.3">Ovarian cancer PDX</text>
<text x="78.90" y="200.50" font-size="9.5" stroke="#222" stroke-width="0.3">(<tspan font-style="italic">n</tspan> = 8/group)</text>
<line x1="55.80" y1="195.00" x2="55.80" y2="286.80" stroke="#2a2a2a" stroke-width="1.3"/>
<line x1="55.20" y1="286.20" x2="163.40" y2="286.20" stroke="#2a2a2a" stroke-width="1.3"/>
<line x1="53.00" y1="286.20" x2="55.80" y2="286.20" stroke="#2a2a2a" stroke-width="1.1"/>
<text x="52.20" y="289.60" font-size="9.4" text-anchor="end" stroke="#222" stroke-width="0.3">0</text>
<line x1="53.00" y1="263.50" x2="55.80" y2="263.50" stroke="#2a2a2a" stroke-width="1.1"/>
<text x="52.20" y="266.90" font-size="9.4" text-anchor="end" stroke="#222" stroke-width="0.3">400</text>
<line x1="53.00" y1="240.80" x2="55.80" y2="240.80" stroke="#2a2a2a" stroke-width="1.1"/>
<text x="52.20" y="244.20" font-size="9.4" text-anchor="end" stroke="#222" stroke-width="0.3">800</text>
<line x1="53.00" y1="218.10" x2="55.80" y2="218.10" stroke="#2a2a2a" stroke-width="1.1"/>
<text x="52.20" y="221.50" font-size="9.4" text-anchor="end" stroke="#222" stroke-width="0.3">1,200</text>
<line x1="53.00" y1="195.40" x2="55.80" y2="195.40" stroke="#2a2a2a" stroke-width="1.1"/>
<text x="52.20" y="198.80" font-size="9.4" text-anchor="end" stroke="#222" stroke-width="0.3">1,600</text>
<line x1="54.90" y1="286.20" x2="54.90" y2="288.80" stroke="#2a2a2a" stroke-width="1"/>
<line x1="64.84" y1="286.20" x2="64.84" y2="287.80" stroke="#2a2a2a" stroke-width="1"/>
<line x1="74.78" y1="286.20" x2="74.78" y2="288.80" stroke="#2a2a2a" stroke-width="1"/>
<line x1="84.72" y1="286.20" x2="84.72" y2="287.80" stroke="#2a2a2a" stroke-width="1"/>
<line x1="94.66" y1="286.20" x2="94.66" y2="288.80" stroke="#2a2a2a" stroke-width="1"/>
<line x1="104.60" y1="286.20" x2="104.60" y2="287.80" stroke="#2a2a2a" stroke-width="1"/>
<line x1="114.54" y1="286.20" x2="114.54" y2="288.80" stroke="#2a2a2a" stroke-width="1"/>
<line x1="124.48" y1="286.20" x2="124.48" y2="287.80" stroke="#2a2a2a" stroke-width="1"/>
<line x1="134.42" y1="286.20" x2="134.42" y2="288.80" stroke="#2a2a2a" stroke-width="1"/>
<line x1="144.36" y1="286.20" x2="144.36" y2="287.80" stroke="#2a2a2a" stroke-width="1"/>
<line x1="154.30" y1="286.20" x2="154.30" y2="288.80" stroke="#2a2a2a" stroke-width="1"/>
<line x1="164.24" y1="286.20" x2="164.24" y2="287.80" stroke="#2a2a2a" stroke-width="1"/>
<text x="54.90" y="300.40" font-size="9.8" text-anchor="middle" stroke="#222" stroke-width="0.3">30</text>
<text x="74.78" y="300.40" font-size="9.8" text-anchor="middle" stroke="#222" stroke-width="0.3">34</text>
<text x="94.66" y="300.40" font-size="9.8" text-anchor="middle" stroke="#222" stroke-width="0.3">38</text>
<text x="114.54" y="300.40" font-size="9.8" text-anchor="middle" stroke="#222" stroke-width="0.3">42</text>
<text x="134.42" y="300.40" font-size="9.8" text-anchor="middle" stroke="#222" stroke-width="0.3">46</text>
<text x="154.30" y="300.40" font-size="9.8" text-anchor="middle" stroke="#222" stroke-width="0.3">50</text>
<text x="65.40" y="315.10" font-size="9.9" stroke="#222" stroke-width="0.3">Days after xenograft</text>
<text x="22.40" y="242.50" font-size="9.4" text-anchor="middle" stroke="#222" stroke-width="0.3" transform="rotate(-90 22.40 242.50)">Tumor volume (mm<tspan font-size="6.3" dy="-3.6">3</tspan><tspan dy="3.6">)</tspan></text>
<line x1="55.80" y1="280.98" x2="69.81" y2="280.52" stroke="#111" stroke-width="1.6"/>
<polyline points="69.81,280.52 79.75,278.54 94.66,272.30 109.57,258.39 124.48,243.92 139.39,230.02 154.30,212.43" fill="none" stroke="#a5a5a5" stroke-width="1.3"/>
<circle cx="69.81" cy="280.52" r="1.53" fill="#a5a5a5"/>
<line x1="79.75" y1="277.86" x2="79.75" y2="279.22" stroke="#222" stroke-width="1.1"/>
<line x1="77.75" y1="277.86" x2="81.75" y2="277.86" stroke="#222" stroke-width="1.1"/>
<line x1="77.75" y1="279.22" x2="81.75" y2="279.22" stroke="#222" stroke-width="1.1"/>
<circle cx="79.75" cy="278.54" r="1.53" fill="#a5a5a5"/>
<line x1="94.66" y1="271.05" x2="94.66" y2="273.54" stroke="#222" stroke-width="1.1"/>
<line x1="92.66" y1="271.05" x2="96.66" y2="271.05" stroke="#222" stroke-width="1.1"/>
<line x1="92.66" y1="273.54" x2="96.66" y2="273.54" stroke="#222" stroke-width="1.1"/>
<circle cx="94.66" cy="272.30" r="1.53" fill="#a5a5a5"/>
<line x1="109.57" y1="255.84" x2="109.57" y2="260.95" stroke="#222" stroke-width="1.1"/>
<line x1="107.57" y1="255.84" x2="111.57" y2="255.84" stroke="#222" stroke-width="1.1"/>
<line x1="107.57" y1="260.95" x2="111.57" y2="260.95" stroke="#222" stroke-width="1.1"/>
<circle cx="109.57" cy="258.39" r="1.53" fill="#a5a5a5"/>
<line x1="124.48" y1="239.95" x2="124.48" y2="247.89" stroke="#222" stroke-width="1.1"/>
<line x1="122.48" y1="239.95" x2="126.48" y2="239.95" stroke="#222" stroke-width="1.1"/>
<line x1="122.48" y1="247.89" x2="126.48" y2="247.89" stroke="#222" stroke-width="1.1"/>
<circle cx="124.48" cy="243.92" r="1.53" fill="#a5a5a5"/>
<line x1="139.39" y1="223.77" x2="139.39" y2="236.26" stroke="#222" stroke-width="1.1"/>
<line x1="137.39" y1="223.77" x2="141.39" y2="223.77" stroke="#222" stroke-width="1.1"/>
<line x1="137.39" y1="236.26" x2="141.39" y2="236.26" stroke="#222" stroke-width="1.1"/>
<circle cx="139.39" cy="230.02" r="1.53" fill="#a5a5a5"/>
<line x1="154.30" y1="202.78" x2="154.30" y2="222.07" stroke="#222" stroke-width="1.1"/>
<line x1="152.30" y1="202.78" x2="156.30" y2="202.78" stroke="#222" stroke-width="1.1"/>
<line x1="152.30" y1="222.07" x2="156.30" y2="222.07" stroke="#222" stroke-width="1.1"/>
<circle cx="154.30" cy="212.43" r="1.53" fill="#a5a5a5"/>
<polyline points="69.81,280.52 79.75,279.39 94.66,275.42 109.57,271.05 124.48,264.75 139.39,257.54 154.30,246.93" fill="none" stroke="#959595" stroke-width="1.5"/>
<polygon points="69.81,278.54 70.29,279.87 71.69,279.91 70.58,280.78 70.97,282.13 69.81,281.33 68.65,282.13 69.04,280.78 67.93,279.91 69.33,279.87" fill="#959595"/>
<line x1="79.75" y1="278.94" x2="79.75" y2="279.84" stroke="#222" stroke-width="1.1"/>
<line x1="77.75" y1="278.94" x2="81.75" y2="278.94" stroke="#222" stroke-width="1.1"/>
<line x1="77.75" y1="279.84" x2="81.75" y2="279.84" stroke="#222" stroke-width="1.1"/>
<polygon points="79.75,277.41 80.23,278.73 81.63,278.78 80.52,279.64 80.91,280.99 79.75,280.20 78.59,280.99 78.98,279.64 77.87,278.78 79.27,278.73" fill="#959595"/>
<line x1="94.66" y1="274.57" x2="94.66" y2="276.27" stroke="#222" stroke-width="1.1"/>
<line x1="92.66" y1="274.57" x2="96.66" y2="274.57" stroke="#222" stroke-width="1.1"/>
<line x1="92.66" y1="276.27" x2="96.66" y2="276.27" stroke="#222" stroke-width="1.1"/>
<polygon points="94.66,273.44 95.14,274.76 96.54,274.81 95.43,275.67 95.82,277.02 94.66,276.23 93.50,277.02 93.89,275.67 92.78,274.81 94.18,274.76" fill="#959595"/>
<line x1="109.57" y1="269.63" x2="109.57" y2="272.47" stroke="#222" stroke-width="1.1"/>
<line x1="107.57" y1="269.63" x2="111.57" y2="269.63" stroke="#222" stroke-width="1.1"/>
<line x1="107.57" y1="272.47" x2="111.57" y2="272.47" stroke="#222" stroke-width="1.1"/>
<polygon points="109.57,269.07 110.05,270.39 111.45,270.44 110.34,271.30 110.73,272.65 109.57,271.86 108.41,272.65 108.80,271.30 107.69,270.44 109.09,270.39" fill="#959595"/>
<line x1="124.48" y1="262.93" x2="124.48" y2="266.56" stroke="#222" stroke-width="1.1"/>
<line x1="122.48" y1="262.93" x2="126.48" y2="262.93" stroke="#222" stroke-width="1.1"/>
<line x1="122.48" y1="266.56" x2="126.48" y2="266.56" stroke="#222" stroke-width="1.1"/>
<polygon points="124.48,262.77 124.96,264.09 126.36,264.14 125.25,265.00 125.64,266.35 124.48,265.56 123.32,266.35 123.71,265.00 122.60,264.14 124.00,264.09" fill="#959595"/>
<line x1="139.39" y1="254.82" x2="139.39" y2="260.27" stroke="#222" stroke-width="1.1"/>
<line x1="137.39" y1="254.82" x2="141.39" y2="254.82" stroke="#222" stroke-width="1.1"/>
<line x1="137.39" y1="260.27" x2="141.39" y2="260.27" stroke="#222" stroke-width="1.1"/>
<polygon points="139.39,255.56 139.87,256.89 141.27,256.93 140.16,257.79 140.55,259.14 139.39,258.35 138.23,259.14 138.62,257.79 137.51,256.93 138.91,256.89" fill="#959595"/>
<line x1="154.30" y1="242.96" x2="154.30" y2="250.90" stroke="#222" stroke-width="1.1"/>
<line x1="152.30" y1="242.96" x2="156.30" y2="242.96" stroke="#222" stroke-width="1.1"/>
<line x1="152.30" y1="250.90" x2="156.30" y2="250.90" stroke="#222" stroke-width="1.1"/>
<polygon points="154.30,244.95 154.78,246.27 156.18,246.32 155.07,247.18 155.46,248.53 154.30,247.74 153.14,248.53 153.53,247.18 152.42,246.32 153.82,246.27" fill="#959595"/>
<polyline points="69.81,280.52 79.75,278.25 94.66,271.33 109.57,257.82 124.48,243.81 139.39,231.72 154.30,216.00" fill="none" stroke="#111111" stroke-width="1.9"/>
<path d="M67.83,280.52 L69.81,278.90 L71.79,280.52 L69.81,282.14 Z" fill="#111111"/>
<line x1="79.75" y1="277.69" x2="79.75" y2="278.82" stroke="#222" stroke-width="1.1"/>
<line x1="77.75" y1="277.69" x2="81.75" y2="277.69" stroke="#222" stroke-width="1.1"/>
<line x1="77.75" y1="278.82" x2="81.75" y2="278.82" stroke="#222" stroke-width="1.1"/>
<path d="M77.77,278.25 L79.75,276.63 L81.73,278.25 L79.75,279.88 Z" fill="#111111"/>
<line x1="94.66" y1="269.91" x2="94.66" y2="272.75" stroke="#222" stroke-width="1.1"/>
<line x1="92.66" y1="269.91" x2="96.66" y2="269.91" stroke="#222" stroke-width="1.1"/>
<line x1="92.66" y1="272.75" x2="96.66" y2="272.75" stroke="#222" stroke-width="1.1"/>
<path d="M92.68,271.33 L94.66,269.71 L96.64,271.33 L94.66,272.95 Z" fill="#111111"/>
<line x1="109.57" y1="254.70" x2="109.57" y2="260.95" stroke="#222" stroke-width="1.1"/>
<line x1="107.57" y1="254.70" x2="111.57" y2="254.70" stroke="#222" stroke-width="1.1"/>
<line x1="107.57" y1="260.95" x2="111.57" y2="260.95" stroke="#222" stroke-width="1.1"/>
<path d="M107.59,257.82 L109.57,256.20 L111.55,257.82 L109.57,259.44 Z" fill="#111111"/>
<line x1="124.48" y1="238.98" x2="124.48" y2="248.63" stroke="#222" stroke-width="1.1"/>
<line x1="122.48" y1="238.98" x2="126.48" y2="238.98" stroke="#222" stroke-width="1.1"/>
<line x1="122.48" y1="248.63" x2="126.48" y2="248.63" stroke="#222" stroke-width="1.1"/>
<path d="M122.50,243.81 L124.48,242.19 L126.46,243.81 L124.48,245.43 Z" fill="#111111"/>
<line x1="139.39" y1="224.34" x2="139.39" y2="239.10" stroke="#222" stroke-width="1.1"/>
<line x1="137.39" y1="224.34" x2="141.39" y2="224.34" stroke="#222" stroke-width="1.1"/>
<line x1="137.39" y1="239.10" x2="141.39" y2="239.10" stroke="#222" stroke-width="1.1"/>
<path d="M137.41,231.72 L139.39,230.10 L141.37,231.72 L139.39,233.34 Z" fill="#111111"/>
<line x1="154.30" y1="205.22" x2="154.30" y2="226.78" stroke="#222" stroke-width="1.1"/>
<line x1="152.30" y1="205.22" x2="156.30" y2="205.22" stroke="#222" stroke-width="1.1"/>
<line x1="152.30" y1="226.78" x2="156.30" y2="226.78" stroke="#222" stroke-width="1.1"/>
<path d="M152.32,216.00 L154.30,214.38 L156.28,216.00 L154.30,217.62 Z" fill="#111111"/>
<polyline points="69.81,280.52 79.75,280.70 94.66,280.52 109.57,279.50 124.48,278.25 139.39,275.87 154.30,273.83" fill="none" stroke="#d33b3b" stroke-width="1.5"/>
<path d="M67.83,280.52 L69.81,278.90 L71.79,280.52 L69.81,282.14 Z" fill="#d33b3b"/>
<path d="M77.77,280.70 L79.75,279.08 L81.73,280.70 L79.75,282.32 Z" fill="#d33b3b"/>
<line x1="94.66" y1="280.07" x2="94.66" y2="280.98" stroke="#b02a2a" stroke-width="1.1"/>
<line x1="92.66" y1="280.07" x2="96.66" y2="280.07" stroke="#b02a2a" stroke-width="1.1"/>
<line x1="92.66" y1="280.98" x2="96.66" y2="280.98" stroke="#b02a2a" stroke-width="1.1"/>
<path d="M92.68,280.52 L94.66,278.90 L96.64,280.52 L94.66,282.14 Z" fill="#d33b3b"/>
<line x1="109.57" y1="279.05" x2="109.57" y2="279.96" stroke="#b02a2a" stroke-width="1.1"/>
<line x1="107.57" y1="279.05" x2="111.57" y2="279.05" stroke="#b02a2a" stroke-width="1.1"/>
<line x1="107.57" y1="279.96" x2="111.57" y2="279.96" stroke="#b02a2a" stroke-width="1.1"/>
<path d="M107.59,279.50 L109.57,277.88 L111.55,279.50 L109.57,281.12 Z" fill="#d33b3b"/>
<line x1="124.48" y1="277.69" x2="124.48" y2="278.82" stroke="#b02a2a" stroke-width="1.1"/>
<line x1="122.48" y1="277.69" x2="126.48" y2="277.69" stroke="#b02a2a" stroke-width="1.1"/>
<line x1="122.48" y1="278.82" x2="126.48" y2="278.82" stroke="#b02a2a" stroke-width="1.1"/>
<path d="M122.50,278.25 L124.48,276.63 L126.46,278.25 L124.48,279.88 Z" fill="#d33b3b"/>
<line x1="139.39" y1="275.19" x2="139.39" y2="276.55" stroke="#b02a2a" stroke-width="1.1"/>
<line x1="137.39" y1="275.19" x2="141.39" y2="275.19" stroke="#b02a2a" stroke-width="1.1"/>
<line x1="137.39" y1="276.55" x2="141.39" y2="276.55" stroke="#b02a2a" stroke-width="1.1"/>
<path d="M137.41,275.87 L139.39,274.25 L141.37,275.87 L139.39,277.49 Z" fill="#d33b3b"/>
<line x1="154.30" y1="272.92" x2="154.30" y2="274.74" stroke="#b02a2a" stroke-width="1.1"/>
<line x1="152.30" y1="272.92" x2="156.30" y2="272.92" stroke="#b02a2a" stroke-width="1.1"/>
<line x1="152.30" y1="274.74" x2="156.30" y2="274.74" stroke="#b02a2a" stroke-width="1.1"/>
<path d="M152.32,273.83 L154.30,272.21 L156.28,273.83 L154.30,275.45 Z" fill="#d33b3b"/>
<polyline points="156.30,247.00 158.30,247.00 158.30,273.90 156.30,273.90" fill="none" stroke="#2a2a2a" stroke-width="0.9"/>
<text x="156.60" y="260.20" font-size="9" text-anchor="middle" stroke="#222" stroke-width="0.3" transform="rotate(90 156.60 260.20)">***</text>
<polyline points="163.60,212.00 165.60,212.00 165.60,272.40 163.60,272.40" fill="none" stroke="#2a2a2a" stroke-width="0.9"/>
<text x="164.60" y="241.80" font-size="9" text-anchor="middle" stroke="#222" stroke-width="0.3" transform="rotate(90 164.60 241.80)">****</text>
<text x="192.30" y="223.00" font-size="9.4" stroke="#222" stroke-width="0.3" transform="rotate(-90 192.30 223.00)">Cisplatin</text>
<text x="202.00" y="222.60" font-size="9.6" stroke="#222" stroke-width="0.3" transform="rotate(-90 202.00 222.60)">R59949</text>
<rect x="203.20" y="226.00" width="15.20" height="67.00" fill="url(#strip)"/>
<line x1="176.60" y1="233.80" x2="184.60" y2="233.80" stroke="#111111" stroke-width="2.0"/>
<path d="M177.63,233.80 L180.60,231.37 L183.57,233.80 L180.60,236.23 Z" fill="#111111"/>
<text x="189.80" y="236.00" font-size="7.71" text-anchor="middle" stroke="#222" stroke-width="0.45">–</text>
<text x="198.70" y="236.00" font-size="7.71" text-anchor="middle" stroke="#222" stroke-width="0.45">–</text>
<line x1="176.60" y1="251.40" x2="184.60" y2="251.40" stroke="#8a8a8a" stroke-width="2.0"/>
<circle cx="180.60" cy="251.40" r="2.295" fill="#8a8a8a"/>
<text x="189.80" y="253.60" font-size="7.71" text-anchor="middle" stroke="#222" stroke-width="0.45">–</text>
<text x="198.70" y="254.80" font-size="9.4" text-anchor="middle" stroke="#222" stroke-width="0.4">+</text>
<line x1="176.60" y1="269.40" x2="184.60" y2="269.40" stroke="#9a9a9a" stroke-width="2.0"/>
<polygon points="180.60,266.43 181.31,268.42 183.42,268.48 181.76,269.78 182.35,271.80 180.60,270.61 178.85,271.80 179.44,269.78 177.78,268.48 179.89,268.42" fill="#9a9a9a"/>
<text x="189.80" y="272.80" font-size="9.4" text-anchor="middle" stroke="#222" stroke-width="0.4">+</text>
<text x="198.70" y="271.60" font-size="7.71" text-anchor="middle" stroke="#222" stroke-width="0.45">–</text>
<line x1="176.60" y1="286.90" x2="184.60" y2="286.90" stroke="#d33b3b" stroke-width="2.0"/>
<path d="M177.63,286.90 L180.60,284.47 L183.57,286.90 L180.60,289.33 Z" fill="#d33b3b"/>
<text x="189.80" y="290.30" font-size="9.4" text-anchor="middle" stroke="#222" stroke-width="0.4">+</text>
<text x="198.70" y="290.30" font-size="9.4" text-anchor="middle" stroke="#222" stroke-width="0.4">+</text>
<ellipse cx="211.5" cy="233.7" rx="4.7" ry="3.0" fill="url(#tum1)"/>
<ellipse cx="211.2" cy="253.3" rx="4.5" ry="3.9" fill="url(#tum2)"/>
<ellipse cx="211.2" cy="272.0" rx="4.3" ry="3.0" fill="url(#tum3)"/>
<ellipse cx="211.5" cy="287.5" rx="2.6" ry="2.2" fill="url(#tum4)"/>
<line x1="212.20" y1="291.60" x2="217.40" y2="291.60" stroke="#222" stroke-width="1"/>
<text x="231.20" y="187.00" font-size="16.5" fill="#111" stroke="#111" stroke-width="0.55" font-weight="bold">D</text>
<line x1="272.10" y1="203.20" x2="272.10" y2="282.90" stroke="#2a2a2a" stroke-width="1.3"/>
<line x1="271.50" y1="282.30" x2="351.60" y2="282.30" stroke="#2a2a2a" stroke-width="1.3"/>
<line x1="269.30" y1="282.30" x2="272.10" y2="282.30" stroke="#2a2a2a" stroke-width="1.1"/>
<text x="268.50" y="285.90" font-size="10" text-anchor="end" stroke="#222" stroke-width="0.3">0</text>
<line x1="269.30" y1="243.10" x2="272.10" y2="243.10" stroke="#2a2a2a" stroke-width="1.1"/>
<text x="268.50" y="246.70" font-size="10" text-anchor="end" stroke="#222" stroke-width="0.3">1</text>
<line x1="269.30" y1="203.90" x2="272.10" y2="203.90" stroke="#2a2a2a" stroke-width="1.1"/>
<text x="268.50" y="207.50" font-size="10" text-anchor="end" stroke="#222" stroke-width="0.3">2</text>
<line x1="285.30" y1="282.30" x2="285.30" y2="284.90" stroke="#2a2a2a" stroke-width="1"/>
<line x1="305.60" y1="282.30" x2="305.60" y2="284.90" stroke="#2a2a2a" stroke-width="1"/>
<line x1="325.80" y1="282.30" x2="325.80" y2="284.90" stroke="#2a2a2a" stroke-width="1"/>
<line x1="346.00" y1="282.30" x2="346.00" y2="284.90" stroke="#2a2a2a" stroke-width="1"/>
<text x="253.40" y="242.00" font-size="9.3" text-anchor="middle" stroke="#222" stroke-width="0.3" transform="rotate(-90 253.40 242.00)">Tumor weight (g)</text>
<circle cx="280.20" cy="223.11" r="1.785" fill="#111"/>
<circle cx="289.60" cy="225.85" r="1.785" fill="#111"/>
<circle cx="280.20" cy="232.52" r="1.785" fill="#111"/>
<circle cx="285.30" cy="231.34" r="1.785" fill="#111"/>
<circle cx="285.30" cy="240.75" r="1.785" fill="#111"/>
<circle cx="285.30" cy="248.20" r="1.785" fill="#111"/>
<circle cx="280.20" cy="265.05" r="1.785" fill="#111"/>
<circle cx="289.60" cy="263.09" r="1.785" fill="#111"/>
<line x1="278.80" y1="241.14" x2="291.80" y2="241.14" stroke="#2a2a2a" stroke-width="1.1"/>
<line x1="285.30" y1="225.07" x2="285.30" y2="257.21" stroke="#222" stroke-width="1.0"/>
<line x1="282.00" y1="225.07" x2="288.60" y2="225.07" stroke="#222" stroke-width="1.0"/>
<line x1="282.00" y1="257.21" x2="288.60" y2="257.21" stroke="#222" stroke-width="1.0"/>
<rect x="303.81" y="205.64" width="3.57" height="3.57" fill="#111"/>
<rect x="298.51" y="226.03" width="3.57" height="3.57" fill="#111"/>
<rect x="308.01" y="226.03" width="3.57" height="3.57" fill="#111"/>
<rect x="303.81" y="233.08" width="3.57" height="3.57" fill="#111"/>
<rect x="303.81" y="243.67" width="3.57" height="3.57" fill="#111"/>
<rect x="303.81" y="249.16" width="3.57" height="3.57" fill="#111"/>
<rect x="298.51" y="263.27" width="3.57" height="3.57" fill="#111"/>
<rect x="308.01" y="263.27" width="3.57" height="3.57" fill="#111"/>
<line x1="299.10" y1="241.14" x2="312.10" y2="241.14" stroke="#2a2a2a" stroke-width="1.1"/>
<line x1="305.60" y1="221.54" x2="305.60" y2="260.74" stroke="#222" stroke-width="1.0"/>
<line x1="302.30" y1="221.54" x2="308.90" y2="221.54" stroke="#222" stroke-width="1.0"/>
<line x1="302.30" y1="260.74" x2="308.90" y2="260.74" stroke="#222" stroke-width="1.0"/>
<path d="M323.70,249.88 L325.80,246.10 L327.90,249.88 Z" fill="#111"/>
<path d="M318.50,258.50 L320.60,254.72 L322.70,258.50 Z" fill="#111"/>
<path d="M328.40,258.50 L330.50,254.72 L332.60,258.50 Z" fill="#111"/>
<path d="M323.70,262.81 L325.80,259.03 L327.90,262.81 Z" fill="#111"/>
<path d="M318.50,270.65 L320.60,266.87 L322.70,270.65 Z" fill="#111"/>
<path d="M328.40,265.95 L330.50,262.17 L332.60,265.95 Z" fill="#111"/>
<path d="M323.70,268.69 L325.80,264.91 L327.90,268.69 Z" fill="#111"/>
<path d="M325.70,272.22 L327.80,268.44 L329.90,272.22 Z" fill="#111"/>
<line x1="319.30" y1="260.74" x2="332.30" y2="260.74" stroke="#2a2a2a" stroke-width="1.1"/>
<line x1="325.80" y1="253.29" x2="325.80" y2="268.19" stroke="#222" stroke-width="1.0"/>
<line x1="322.50" y1="253.29" x2="329.10" y2="253.29" stroke="#222" stroke-width="1.0"/>
<line x1="322.50" y1="268.19" x2="329.10" y2="268.19" stroke="#222" stroke-width="1.0"/>
<circle cx="341.50" cy="272.11" r="1.785" fill="#111"/>
<circle cx="346.00" cy="271.32" r="1.785" fill="#111"/>
<circle cx="350.00" cy="272.89" r="1.785" fill="#111"/>
<circle cx="343.00" cy="276.42" r="1.785" fill="#111"/>
<circle cx="348.00" cy="276.81" r="1.785" fill="#111"/>
<circle cx="351.50" cy="278.38" r="1.785" fill="#111"/>
<circle cx="340.00" cy="277.60" r="1.785" fill="#111"/>
<circle cx="346.00" cy="278.77" r="1.785" fill="#111"/>
<line x1="339.50" y1="275.64" x2="352.50" y2="275.64" stroke="#2a2a2a" stroke-width="1.1"/>
<line x1="346.00" y1="272.89" x2="346.00" y2="278.38" stroke="#222" stroke-width="1.0"/>
<line x1="342.70" y1="272.89" x2="349.30" y2="272.89" stroke="#222" stroke-width="1.0"/>
<line x1="342.70" y1="278.38" x2="349.30" y2="278.38" stroke="#222" stroke-width="1.0"/>
<polyline points="305.40,192.70 305.40,190.30 346.20,190.30 346.20,192.70" fill="none" stroke="#222" stroke-width="1"/>
<text x="326.80" y="191.60" font-size="8.5" text-anchor="middle" stroke="#222" stroke-width="0.3">**</text>
<polyline points="326.00,204.30 326.00,201.90 346.20,201.90 346.20,204.30" fill="none" stroke="#222" stroke-width="1"/>
<text x="336.10" y="203.20" font-size="8.5" text-anchor="middle" stroke="#222" stroke-width="0.3">**</text>
<text x="279.40" y="298.40" font-size="9.5" text-anchor="end" stroke="#222" stroke-width="0.3">Cisplatin</text>
<text x="279.40" y="309.80" font-size="9.5" text-anchor="end" stroke="#222" stroke-width="0.3">R59949</text>
<text x="285.30" y="297.20" font-size="7.71" text-anchor="middle" stroke="#222" stroke-width="0.45">–</text>
<text x="305.60" y="297.20" font-size="7.71" text-anchor="middle" stroke="#222" stroke-width="0.45">–</text>
<text x="325.80" y="298.40" font-size="9.4" text-anchor="middle" stroke="#222" stroke-width="0.4">+</text>
<text x="346.00" y="298.40" font-size="9.4" text-anchor="middle" stroke="#222" stroke-width="0.4">+</text>
<text x="285.30" y="308.60" font-size="7.71" text-anchor="middle" stroke="#222" stroke-width="0.45">–</text>
<text x="305.60" y="309.80" font-size="9.4" text-anchor="middle" stroke="#222" stroke-width="0.4">+</text>
<text x="325.80" y="308.60" font-size="7.71" text-anchor="middle" stroke="#222" stroke-width="0.45">–</text>
<text x="346.00" y="309.80" font-size="9.4" text-anchor="middle" stroke="#222" stroke-width="0.4">+</text>
<text x="369.40" y="184.00" font-size="16.5" fill="#111" stroke="#111" stroke-width="0.55" font-weight="bold">E</text>
<text x="459.30" y="188.80" font-size="10" text-anchor="middle" stroke="#222" stroke-width="0.3">R59949</text>
<line x1="398.80" y1="193.00" x2="520.00" y2="193.00" stroke="#2a2a2a" stroke-width="1.1"/>
<line x1="427.20" y1="198.80" x2="430.60" y2="198.80" stroke="#2a2a2a" stroke-width="1.3"/>
<text x="489.70" y="202.20" font-size="9.4" text-anchor="middle" stroke="#222" stroke-width="0.4">+</text>
<line x1="384.20" y1="207.00" x2="384.20" y2="301.00" stroke="#2a2a2a" stroke-width="1.1"/>
<text x="378.90" y="254.00" font-size="9.7" text-anchor="middle" stroke="#222" stroke-width="0.3" transform="rotate(-90 378.90 254.00)">Cisplatin</text>
<line x1="389.20" y1="226.60" x2="389.20" y2="230.80" stroke="#2a2a2a" stroke-width="1.3"/>
<text x="388.70" y="282.40" font-size="9.4" text-anchor="middle" stroke="#222" stroke-width="0.4">+</text>
<text x="431.20" y="314.50" font-size="9.6" stroke="#222" stroke-width="0.3">Ki-67 Staining</text>
<g clip-path="url(#c1)"><g filter="url(#ct1)">
<rect x="395.00" y="203.40" width="61.00" height="47.00" fill="#e4e4f3" filter="url(#t1)"/>
</g>
<g fill="#2e1c18" filter="url(#nblur)"><ellipse cx="428.5" cy="211.4" rx="1.6" ry="1.2" fill-opacity="0.87"/><ellipse cx="432.0" cy="211.1" rx="1.6" ry="1.2" fill-opacity="0.76"/><ellipse cx="443.1" cy="209.1" rx="1.6" ry="1.1" fill-opacity="0.86"/><ellipse cx="445.6" cy="210.5" rx="1.8" ry="1.7" fill-opacity="0.76"/><ellipse cx="444.4" cy="214.5" rx="1.7" ry="1.4" fill-opacity="0.80"/><ellipse cx="435.6" cy="216.9" rx="1.1" ry="0.9" fill-opacity="0.87"/><ellipse cx="429.8" cy="221.2" rx="1.1" ry="0.9" fill-opacity="0.82"/><ellipse cx="426.1" cy="228.1" rx="1.4" ry="1.3" fill-opacity="0.80"/><ellipse cx="432.9" cy="225.3" rx="1.0" ry="0.8" fill-opacity="0.93"/><ellipse cx="440.2" cy="221.9" rx="1.3" ry="1.2" fill-opacity="0.92"/><ellipse cx="445.3" cy="223.0" rx="1.7" ry="1.6" fill-opacity="0.88"/><ellipse cx="450.4" cy="224.7" rx="1.1" ry="1.1" fill-opacity="0.85"/><ellipse cx="451.8" cy="228.9" rx="1.5" ry="1.4" fill-opacity="0.84"/><ellipse cx="444.6" cy="229.4" rx="1.6" ry="1.4" fill-opacity="0.85"/><ellipse cx="442.4" cy="230.9" rx="0.9" ry="0.9" fill-opacity="1.00"/><ellipse cx="436.3" cy="230.9" rx="1.1" ry="0.9" fill-opacity="1.00"/><ellipse cx="431.1" cy="231.0" rx="1.7" ry="1.3" fill-opacity="0.88"/><ellipse cx="427.3" cy="234.8" rx="1.3" ry="1.0" fill-opacity="0.89"/><ellipse cx="421.2" cy="236.5" rx="1.6" ry="1.5" fill-opacity="0.97"/><ellipse cx="435.7" cy="234.7" rx="1.4" ry="1.2" fill-opacity="0.86"/><ellipse cx="432.8" cy="239.6" rx="1.4" ry="1.1" fill-opacity="0.88"/><ellipse cx="398.6" cy="239.6" rx="1.2" ry="1.0" fill-opacity="0.91"/><ellipse cx="401.8" cy="238.2" rx="0.9" ry="0.7" fill-opacity="0.79"/><ellipse cx="404.6" cy="241.0" rx="1.6" ry="1.5" fill-opacity="0.95"/><ellipse cx="408.7" cy="250.1" rx="1.5" ry="1.1" fill-opacity="0.75"/><ellipse cx="426.5" cy="242.8" rx="1.1" ry="0.8" fill-opacity="0.91"/><ellipse cx="438.1" cy="242.9" rx="1.0" ry="0.9" fill-opacity="0.79"/><ellipse cx="436.9" cy="235.8" rx="1.3" ry="1.0" fill-opacity="0.87"/><ellipse cx="428.2" cy="210.1" rx="1.3" ry="1.0" fill-opacity="0.78"/><ellipse cx="434.4" cy="209.9" rx="1.1" ry="1.0" fill-opacity="0.95"/><ellipse cx="442.8" cy="210.0" rx="1.0" ry="0.9" fill-opacity="0.79"/><ellipse cx="445.3" cy="209.8" rx="1.4" ry="1.1" fill-opacity="0.99"/><ellipse cx="443.6" cy="213.1" rx="1.1" ry="1.0" fill-opacity="0.85"/><ellipse cx="435.0" cy="216.4" rx="1.5" ry="1.1" fill-opacity="0.82"/><ellipse cx="431.7" cy="220.1" rx="1.2" ry="1.1" fill-opacity="0.83"/><ellipse cx="425.7" cy="227.2" rx="1.3" ry="1.0" fill-opacity="0.75"/><ellipse cx="431.1" cy="225.2" rx="1.6" ry="1.6" fill-opacity="0.89"/><ellipse cx="441.8" cy="226.0" rx="1.8" ry="1.6" fill-opacity="0.88"/><ellipse cx="445.0" cy="222.3" rx="1.1" ry="1.0" fill-opacity="0.86"/><ellipse cx="450.8" cy="225.2" rx="1.5" ry="1.2" fill-opacity="0.87"/><ellipse cx="450.3" cy="229.6" rx="1.7" ry="1.2" fill-opacity="0.80"/><ellipse cx="444.3" cy="231.6" rx="1.6" ry="1.3" fill-opacity="0.80"/><ellipse cx="441.7" cy="229.2" rx="1.7" ry="1.4" fill-opacity="0.97"/><ellipse cx="436.7" cy="230.4" rx="1.8" ry="1.4" fill-opacity="0.93"/><ellipse cx="431.4" cy="232.5" rx="1.7" ry="1.3" fill-opacity="0.94"/><ellipse cx="424.4" cy="234.1" rx="1.2" ry="1.0" fill-opacity="0.82"/><ellipse cx="422.0" cy="235.5" rx="1.8" ry="1.7" fill-opacity="0.78"/><ellipse cx="435.4" cy="236.4" rx="0.9" ry="0.7" fill-opacity="0.97"/><ellipse cx="431.3" cy="237.1" rx="1.2" ry="1.1" fill-opacity="0.95"/><ellipse cx="398.6" cy="240.4" rx="1.1" ry="0.8" fill-opacity="0.82"/><ellipse cx="403.6" cy="238.1" rx="1.7" ry="1.5" fill-opacity="0.82"/><ellipse cx="406.7" cy="240.2" rx="0.9" ry="0.8" fill-opacity="0.77"/><ellipse cx="410.4" cy="249.6" rx="0.9" ry="0.7" fill-opacity="1.00"/><ellipse cx="424.4" cy="242.8" rx="1.1" ry="0.8" fill-opacity="0.94"/><ellipse cx="440.1" cy="243.9" rx="1.2" ry="1.2" fill-opacity="0.98"/><ellipse cx="437.0" cy="231.7" rx="1.3" ry="1.0" fill-opacity="0.91"/><ellipse cx="427.3" cy="210.0" rx="1.8" ry="1.4" fill-opacity="0.90"/><ellipse cx="432.6" cy="210.9" rx="1.0" ry="0.9" fill-opacity="0.99"/><ellipse cx="443.1" cy="209.9" rx="1.1" ry="1.0" fill-opacity="0.99"/><ellipse cx="444.2" cy="210.8" rx="1.5" ry="1.2" fill-opacity="0.89"/><ellipse cx="442.9" cy="215.0" rx="1.0" ry="0.8" fill-opacity="1.00"/><ellipse cx="434.4" cy="217.3" rx="1.5" ry="1.5" fill-opacity="0.85"/><ellipse cx="429.4" cy="221.3" rx="1.2" ry="1.1" fill-opacity="0.97"/><ellipse cx="423.9" cy="228.7" rx="1.4" ry="1.2" fill-opacity="0.90"/><ellipse cx="430.9" cy="225.6" rx="1.1" ry="0.8" fill-opacity="0.89"/><ellipse cx="441.2" cy="224.4" rx="1.5" ry="1.2" fill-opacity="0.95"/><ellipse cx="443.7" cy="221.8" rx="1.0" ry="0.9" fill-opacity="0.95"/><ellipse cx="452.8" cy="225.9" rx="1.1" ry="1.0" fill-opacity="1.00"/><ellipse cx="451.6" cy="227.0" rx="1.0" ry="0.9" fill-opacity="0.98"/><ellipse cx="445.1" cy="231.0" rx="1.0" ry="1.0" fill-opacity="0.76"/><ellipse cx="441.7" cy="232.9" rx="1.6" ry="1.6" fill-opacity="0.96"/><ellipse cx="437.1" cy="230.0" rx="1.1" ry="0.9" fill-opacity="0.79"/><ellipse cx="430.6" cy="230.8" rx="1.1" ry="0.8" fill-opacity="0.99"/><ellipse cx="426.5" cy="234.0" rx="1.4" ry="1.3" fill-opacity="0.86"/><ellipse cx="420.4" cy="237.1" rx="1.1" ry="0.8" fill-opacity="0.91"/><ellipse cx="434.7" cy="237.2" rx="1.0" ry="0.8" fill-opacity="0.78"/><ellipse cx="431.4" cy="239.4" rx="1.6" ry="1.3" fill-opacity="0.85"/><ellipse cx="398.9" cy="239.0" rx="0.9" ry="0.8" fill-opacity="0.88"/><ellipse cx="402.0" cy="238.0" rx="1.5" ry="1.4" fill-opacity="0.81"/><ellipse cx="405.2" cy="242.0" rx="1.1" ry="0.9" fill-opacity="0.89"/><ellipse cx="410.7" cy="247.0" rx="1.1" ry="1.0" fill-opacity="0.76"/><ellipse cx="425.9" cy="243.1" rx="1.7" ry="1.3" fill-opacity="0.94"/><ellipse cx="438.9" cy="242.0" rx="1.5" ry="1.5" fill-opacity="0.84"/><ellipse cx="435.5" cy="220.2" rx="1.4" ry="1.4" fill-opacity="0.97"/></g>
</g>
<line x1="447.00" y1="247.30" x2="452.50" y2="247.30" stroke="#111" stroke-width="1.5"/>
<g clip-path="url(#c2)"><g filter="url(#ct2)">
<rect x="459.40" y="203.40" width="60.60" height="47.00" fill="#e2e2f2" filter="url(#t2)"/>
</g>
<g fill="#3e2820" filter="url(#nblur)"><ellipse cx="475.4" cy="208.0" rx="1.0" ry="0.7" fill-opacity="0.96"/><ellipse cx="484.0" cy="203.6" rx="1.2" ry="1.0" fill-opacity="0.90"/><ellipse cx="475.0" cy="234.6" rx="1.3" ry="1.1" fill-opacity="0.93"/><ellipse cx="517.2" cy="215.7" rx="1.4" ry="1.2" fill-opacity="0.82"/><ellipse cx="507.6" cy="248.1" rx="1.3" ry="1.0" fill-opacity="0.85"/><ellipse cx="469.8" cy="207.4" rx="1.4" ry="1.1" fill-opacity="0.76"/><ellipse cx="483.0" cy="209.4" rx="1.4" ry="1.4" fill-opacity="0.92"/><ellipse cx="480.5" cy="245.6" rx="1.6" ry="1.5" fill-opacity="0.98"/><ellipse cx="505.7" cy="209.0" rx="1.2" ry="1.2" fill-opacity="0.99"/><ellipse cx="465.0" cy="205.5" rx="1.4" ry="1.2" fill-opacity="0.98"/><ellipse cx="469.9" cy="208.0" rx="1.2" ry="1.2" fill-opacity="0.97"/><ellipse cx="472.0" cy="237.6" rx="1.7" ry="1.6" fill-opacity="0.87"/><ellipse cx="505.8" cy="219.5" rx="1.5" ry="1.1" fill-opacity="0.98"/><ellipse cx="462.3" cy="226.0" rx="1.5" ry="1.3" fill-opacity="0.88"/><ellipse cx="478.8" cy="204.7" rx="1.2" ry="0.9" fill-opacity="0.88"/><ellipse cx="482.1" cy="233.2" rx="1.0" ry="0.9" fill-opacity="0.93"/><ellipse cx="507.7" cy="214.6" rx="1.6" ry="1.1" fill-opacity="0.91"/><ellipse cx="505.3" cy="249.4" rx="1.7" ry="1.2" fill-opacity="0.88"/><ellipse cx="467.8" cy="208.4" rx="1.1" ry="1.1" fill-opacity="0.86"/><ellipse cx="484.6" cy="207.3" rx="1.2" ry="0.9" fill-opacity="0.92"/><ellipse cx="485.6" cy="242.2" rx="0.9" ry="0.8" fill-opacity="0.76"/><ellipse cx="504.7" cy="223.3" rx="1.0" ry="0.8" fill-opacity="0.92"/><ellipse cx="504.4" cy="248.4" rx="1.8" ry="1.3" fill-opacity="0.76"/><ellipse cx="462.9" cy="218.9" rx="1.6" ry="1.2" fill-opacity="0.83"/><ellipse cx="493.6" cy="208.6" rx="1.6" ry="1.5" fill-opacity="0.98"/><ellipse cx="477.3" cy="226.0" rx="1.5" ry="1.3" fill-opacity="0.81"/><ellipse cx="502.7" cy="213.0" rx="1.0" ry="0.8" fill-opacity="0.97"/><ellipse cx="512.5" cy="249.9" rx="1.3" ry="1.1" fill-opacity="0.79"/><ellipse cx="469.0" cy="210.8" rx="1.4" ry="1.2" fill-opacity="0.75"/><ellipse cx="480.9" cy="207.4" rx="1.0" ry="0.7" fill-opacity="0.79"/><ellipse cx="481.7" cy="240.0" rx="1.4" ry="1.4" fill-opacity="0.98"/><ellipse cx="508.6" cy="215.9" rx="1.3" ry="1.0" fill-opacity="0.90"/><ellipse cx="497.1" cy="245.5" rx="1.5" ry="1.2" fill-opacity="0.86"/><ellipse cx="465.6" cy="211.9" rx="0.9" ry="0.8" fill-opacity="0.78"/><ellipse cx="484.0" cy="205.8" rx="1.0" ry="0.7" fill-opacity="0.81"/><ellipse cx="478.0" cy="241.9" rx="1.3" ry="1.0" fill-opacity="0.91"/><ellipse cx="507.5" cy="224.5" rx="1.8" ry="1.6" fill-opacity="0.86"/><ellipse cx="496.8" cy="247.8" rx="0.9" ry="0.8" fill-opacity="0.88"/><ellipse cx="466.7" cy="214.4" rx="1.6" ry="1.3" fill-opacity="0.88"/><ellipse cx="494.7" cy="206.0" rx="1.2" ry="1.2" fill-opacity="0.84"/><ellipse cx="483.0" cy="236.9" rx="1.0" ry="0.8" fill-opacity="0.96"/><ellipse cx="504.6" cy="215.4" rx="1.3" ry="1.1" fill-opacity="0.87"/></g>
<path d="M509,206 l6,9" fill="none" stroke="#fff" stroke-width="5" stroke-opacity="0.85" stroke-linecap="round" stroke-linejoin="round" filter="url(#sblur)"/>
</g>
<line x1="511.00" y1="247.30" x2="516.50" y2="247.30" stroke="#111" stroke-width="1.5"/>
<g clip-path="url(#c3)"><g filter="url(#ct3)">
<rect x="395.00" y="255.20" width="61.00" height="45.60" fill="#e3e3f3" filter="url(#t3)"/>
</g>
<g fill="#3a3035" filter="url(#nblur)"><ellipse cx="405.3" cy="284.8" rx="1.2" ry="1.1" fill-opacity="0.91"/><ellipse cx="417.3" cy="286.1" rx="1.7" ry="1.3" fill-opacity="0.81"/><ellipse cx="432.3" cy="287.9" rx="1.7" ry="1.4" fill-opacity="0.91"/><ellipse cx="449.7" cy="274.3" rx="1.7" ry="1.4" fill-opacity="0.94"/><ellipse cx="439.5" cy="296.7" rx="1.6" ry="1.4" fill-opacity="0.83"/><ellipse cx="410.9" cy="282.2" rx="1.3" ry="1.2" fill-opacity="0.97"/><ellipse cx="416.0" cy="281.6" rx="1.3" ry="1.2" fill-opacity="0.86"/><ellipse cx="433.8" cy="285.6" rx="1.0" ry="0.7" fill-opacity="0.80"/><ellipse cx="450.1" cy="271.5" rx="1.5" ry="1.2" fill-opacity="0.88"/><ellipse cx="437.9" cy="297.6" rx="1.4" ry="1.2" fill-opacity="0.98"/><ellipse cx="402.1" cy="274.7" rx="1.7" ry="1.7" fill-opacity="0.92"/><ellipse cx="419.1" cy="289.4" rx="1.8" ry="1.7" fill-opacity="0.89"/><ellipse cx="429.7" cy="286.0" rx="1.6" ry="1.4" fill-opacity="0.82"/><ellipse cx="451.6" cy="273.5" rx="1.8" ry="1.3" fill-opacity="0.95"/><ellipse cx="438.5" cy="297.3" rx="1.2" ry="1.1" fill-opacity="0.97"/><ellipse cx="409.0" cy="282.1" rx="0.9" ry="0.9" fill-opacity="0.83"/><ellipse cx="421.1" cy="282.2" rx="1.4" ry="1.4" fill-opacity="0.83"/><ellipse cx="432.4" cy="289.9" rx="0.9" ry="0.7" fill-opacity="0.85"/><ellipse cx="447.1" cy="271.3" rx="0.9" ry="0.9" fill-opacity="0.83"/><ellipse cx="446.2" cy="296.5" rx="1.2" ry="1.0" fill-opacity="0.88"/><ellipse cx="402.5" cy="277.8" rx="1.4" ry="1.2" fill-opacity="0.99"/><ellipse cx="414.9" cy="285.9" rx="1.5" ry="1.2" fill-opacity="0.83"/><ellipse cx="432.4" cy="287.5" rx="1.4" ry="1.0" fill-opacity="0.85"/><ellipse cx="447.6" cy="271.8" rx="1.5" ry="1.3" fill-opacity="0.77"/><ellipse cx="437.7" cy="296.2" rx="1.5" ry="1.2" fill-opacity="0.93"/><ellipse cx="405.0" cy="280.4" rx="1.0" ry="0.9" fill-opacity="0.99"/><ellipse cx="417.0" cy="288.2" rx="1.4" ry="1.1" fill-opacity="0.84"/><ellipse cx="429.3" cy="290.7" rx="1.4" ry="1.1" fill-opacity="0.84"/><ellipse cx="448.1" cy="271.5" rx="1.4" ry="1.3" fill-opacity="0.83"/><ellipse cx="440.9" cy="298.8" rx="1.1" ry="0.8" fill-opacity="0.86"/></g>
<path d="M433,268 l6,6" fill="none" stroke="#fff" stroke-width="4" stroke-opacity="0.8" stroke-linecap="round" stroke-linejoin="round" filter="url(#sblur)"/>
<path d="M446,288 l4,8" fill="none" stroke="#fff" stroke-width="4" stroke-opacity="0.8" stroke-linecap="round" stroke-linejoin="round" filter="url(#sblur)"/>
<path d="M427,281 l3,3" fill="none" stroke="#fff" stroke-width="3" stroke-opacity="0.7" stroke-linecap="round" stroke-linejoin="round" filter="url(#sblur)"/>
</g>
<line x1="447.00" y1="298.40" x2="452.50" y2="298.40" stroke="#111" stroke-width="1.5"/>
<g clip-path="url(#c4)"><g filter="url(#ct4)">
<rect x="459.40" y="255.20" width="60.60" height="45.60" fill="#dfe0f2" filter="url(#t4)"/>
</g>
<path d="M495,255 L520,255 L520,272 Q508,266 495,262 Z" fill="#ffffff" fill-opacity="0.85" filter="url(#pblur)"/>
<path d="M482,269 q4,-4 8,0 q-3,5 -8,0 Z" fill="#fff" fill-opacity="0.9" filter="url(#pblur)"/>
</g>
<line x1="511.00" y1="298.40" x2="516.50" y2="298.40" stroke="#111" stroke-width="1.5"/>
<text x="2.60" y="338.90" font-size="16.5" fill="#111" stroke="#111" stroke-width="0.55" font-weight="bold">F</text>
<text x="153.60" y="333.10" font-size="9.82" stroke="#222" stroke-width="0.3">Platinum-treated ovarian cancer patient-derived tumors</text>
<line x1="74.50" y1="340.30" x2="483.00" y2="340.30" stroke="#2a2a2a" stroke-width="1.1"/>
<text x="74.04" y="365.40" font-size="9.3" stroke="#222" stroke-width="0.3" transform="rotate(-45 74.04 365.40)">pt-1</text>
<text x="89.51" y="365.40" font-size="9.3" stroke="#222" stroke-width="0.3" transform="rotate(-45 89.51 365.40)">pt-2</text>
<text x="104.99" y="365.40" font-size="9.3" stroke="#222" stroke-width="0.3" transform="rotate(-45 104.99 365.40)">pt-3</text>
<text x="120.46" y="365.40" font-size="9.3" stroke="#222" stroke-width="0.3" transform="rotate(-45 120.46 365.40)">pt-4</text>
<text x="135.94" y="365.40" font-size="9.3" stroke="#222" stroke-width="0.3" transform="rotate(-45 135.94 365.40)">pt-5</text>
<text x="151.41" y="365.40" font-size="9.3" stroke="#222" stroke-width="0.3" transform="rotate(-45 151.41 365.40)">pt-6</text>
<text x="166.89" y="365.40" font-size="9.3" stroke="#222" stroke-width="0.3" transform="rotate(-45 166.89 365.40)">pt-7</text>
<text x="182.36" y="365.40" font-size="9.3" stroke="#222" stroke-width="0.3" transform="rotate(-45 182.36 365.40)">pt-8</text>
<text x="198.83" y="365.40" font-size="9.3" stroke="#222" stroke-width="0.3" transform="rotate(-45 198.83 365.40)">pt-9</text>
<text x="214.29" y="365.40" font-size="9.3" stroke="#222" stroke-width="0.3" transform="rotate(-45 214.29 365.40)">pt-10</text>
<text x="229.74" y="365.40" font-size="9.3" stroke="#222" stroke-width="0.3" transform="rotate(-45 229.74 365.40)">pt-11</text>
<text x="245.20" y="365.40" font-size="9.3" stroke="#222" stroke-width="0.3" transform="rotate(-45 245.20 365.40)">pt-12</text>
<text x="260.66" y="365.40" font-size="9.3" stroke="#222" stroke-width="0.3" transform="rotate(-45 260.66 365.40)">pt-13</text>
<text x="276.11" y="365.40" font-size="9.3" stroke="#222" stroke-width="0.3" transform="rotate(-45 276.11 365.40)">pt-14</text>
<text x="291.57" y="365.40" font-size="9.3" stroke="#222" stroke-width="0.3" transform="rotate(-45 291.57 365.40)">pt-15</text>
<text x="308.09" y="365.40" font-size="9.3" stroke="#222" stroke-width="0.3" transform="rotate(-45 308.09 365.40)">pt-16</text>
<text x="323.66" y="365.40" font-size="9.3" stroke="#222" stroke-width="0.3" transform="rotate(-45 323.66 365.40)">pt-17</text>
<text x="339.23" y="365.40" font-size="9.3" stroke="#222" stroke-width="0.3" transform="rotate(-45 339.23 365.40)">pt-18</text>
<text x="354.80" y="365.40" font-size="9.3" stroke="#222" stroke-width="0.3" transform="rotate(-45 354.80 365.40)">pt-19</text>
<text x="370.37" y="365.40" font-size="9.3" stroke="#222" stroke-width="0.3" transform="rotate(-45 370.37 365.40)">pt-20</text>
<text x="385.94" y="365.40" font-size="9.3" stroke="#222" stroke-width="0.3" transform="rotate(-45 385.94 365.40)">pt-21</text>
<text x="401.51" y="365.40" font-size="9.3" stroke="#222" stroke-width="0.3" transform="rotate(-45 401.51 365.40)">pt-22</text>
<text x="418.30" y="365.40" font-size="9.3" stroke="#222" stroke-width="0.3" transform="rotate(-45 418.30 365.40)">pt-23</text>
<text x="434.30" y="365.40" font-size="9.3" stroke="#222" stroke-width="0.3" transform="rotate(-45 434.30 365.40)">pt-24</text>
<text x="450.30" y="365.40" font-size="9.3" stroke="#222" stroke-width="0.3" transform="rotate(-45 450.30 365.40)">pt-25</text>
<text x="466.30" y="365.40" font-size="9.3" stroke="#222" stroke-width="0.3" transform="rotate(-45 466.30 365.40)">pt-26</text>
<rect x="65.40" y="368.30" width="123.80" height="13.10" fill="#bfbfbf" filter="url(#bl)"/>
<rect x="190.20" y="368.30" width="108.20" height="13.10" fill="#bfbfbf" filter="url(#bl)"/>
<rect x="299.40" y="368.30" width="109.00" height="13.10" fill="#bfbfbf" filter="url(#bl)"/>
<rect x="409.40" y="368.30" width="64.00" height="13.10" fill="#bfbfbf" filter="url(#bl)"/>
<rect x="67.54" y="374.30" width="11.20" height="1.70" fill="rgba(35,35,35,0.05)" filter="url(#bb)"/>
<rect x="83.01" y="374.30" width="11.20" height="1.70" fill="rgba(35,35,35,0.45)" filter="url(#bb)"/>
<rect x="98.49" y="374.30" width="11.20" height="1.70" fill="rgba(35,35,35,0.3)" filter="url(#bb)"/>
<rect x="113.96" y="374.30" width="11.20" height="1.70" fill="rgba(35,35,35,0.45)" filter="url(#bb)"/>
<rect x="129.44" y="374.30" width="11.20" height="1.70" fill="rgba(35,35,35,0.45)" filter="url(#bb)"/>
<rect x="144.91" y="374.30" width="11.20" height="1.70" fill="rgba(35,35,35,0.55)" filter="url(#bb)"/>
<rect x="160.39" y="374.30" width="11.20" height="1.70" fill="rgba(35,35,35,0.3)" filter="url(#bb)"/>
<rect x="175.86" y="374.30" width="11.20" height="1.70" fill="rgba(35,35,35,0.45)" filter="url(#bb)"/>
<rect x="192.33" y="374.30" width="11.20" height="1.70" fill="rgba(35,35,35,0.45)" filter="url(#bb)"/>
<rect x="207.79" y="374.30" width="11.20" height="1.70" fill="rgba(35,35,35,0.15)" filter="url(#bb)"/>
<rect x="223.24" y="374.30" width="11.20" height="1.70" fill="rgba(35,35,35,0.3)" filter="url(#bb)"/>
<rect x="238.70" y="374.30" width="11.20" height="1.70" fill="rgba(35,35,35,0.55)" filter="url(#bb)"/>
<rect x="254.16" y="374.30" width="11.20" height="1.70" fill="rgba(35,35,35,0.5)" filter="url(#bb)"/>
<rect x="269.61" y="374.30" width="11.20" height="1.70" fill="rgba(35,35,35,0.4)" filter="url(#bb)"/>
<rect x="285.07" y="374.30" width="11.20" height="1.70" fill="rgba(35,35,35,0.4)" filter="url(#bb)"/>
<rect x="301.59" y="374.30" width="11.20" height="1.70" fill="rgba(35,35,35,0.4)" filter="url(#bb)"/>
<rect x="317.16" y="374.30" width="11.20" height="1.70" fill="rgba(35,35,35,0.45)" filter="url(#bb)"/>
<rect x="332.73" y="374.30" width="11.20" height="1.70" fill="rgba(35,35,35,0.05)" filter="url(#bb)"/>
<rect x="348.30" y="374.30" width="11.20" height="1.70" fill="rgba(35,35,35,0.35)" filter="url(#bb)"/>
<rect x="363.87" y="374.30" width="11.20" height="1.70" fill="rgba(35,35,35,0.5)" filter="url(#bb)"/>
<rect x="379.44" y="374.30" width="11.20" height="1.70" fill="rgba(35,35,35,0.55)" filter="url(#bb)"/>
<rect x="395.01" y="374.30" width="11.20" height="1.70" fill="rgba(35,35,35,0.55)" filter="url(#bb)"/>
<rect x="411.80" y="374.30" width="11.20" height="1.70" fill="rgba(35,35,35,0.5)" filter="url(#bb)"/>
<rect x="427.80" y="374.30" width="11.20" height="1.70" fill="rgba(35,35,35,0.35)" filter="url(#bb)"/>
<rect x="443.80" y="374.30" width="11.20" height="1.70" fill="rgba(35,35,35,0.45)" filter="url(#bb)"/>
<rect x="459.80" y="374.30" width="11.20" height="1.70" fill="rgba(35,35,35,0.45)" filter="url(#bb)"/>
<rect x="65.40" y="385.70" width="123.80" height="13.10" fill="#bfbfbf" filter="url(#bl)"/>
<rect x="190.20" y="385.70" width="108.20" height="13.10" fill="#bfbfbf" filter="url(#bl)"/>
<rect x="299.40" y="385.70" width="109.00" height="13.10" fill="#bfbfbf" filter="url(#bl)"/>
<rect x="409.40" y="385.70" width="64.00" height="13.10" fill="#bfbfbf" filter="url(#bl)"/>
<rect x="83.01" y="391.25" width="11.20" height="2.60" fill="rgba(35,35,35,0.7)" filter="url(#bb)"/>
<rect x="98.49" y="391.25" width="11.20" height="2.60" fill="rgba(35,35,35,0.4)" filter="url(#bb)"/>
<rect x="113.96" y="391.25" width="11.20" height="2.60" fill="rgba(35,35,35,0.85)" filter="url(#bb)"/>
<rect x="129.44" y="391.25" width="11.20" height="2.60" fill="rgba(35,35,35,0.7)" filter="url(#bb)"/>
<rect x="144.91" y="391.25" width="11.20" height="2.60" fill="rgba(35,35,35,0.75)" filter="url(#bb)"/>
<rect x="175.86" y="391.25" width="11.20" height="2.60" fill="rgba(35,35,35,0.25)" filter="url(#bb)"/>
<rect x="192.33" y="391.25" width="11.20" height="2.60" fill="rgba(35,35,35,0.75)" filter="url(#bb)"/>
<rect x="207.79" y="391.25" width="11.20" height="2.60" fill="rgba(35,35,35,0.05)" filter="url(#bb)"/>
<rect x="223.24" y="391.25" width="11.20" height="2.60" fill="rgba(35,35,35,0.3)" filter="url(#bb)"/>
<rect x="238.70" y="391.25" width="11.20" height="2.60" fill="rgba(35,35,35,0.9)" filter="url(#bb)"/>
<rect x="254.16" y="391.25" width="11.20" height="2.60" fill="rgba(35,35,35,0.7)" filter="url(#bb)"/>
<rect x="269.61" y="391.25" width="11.20" height="2.60" fill="rgba(35,35,35,0.3)" filter="url(#bb)"/>
<rect x="285.07" y="391.25" width="11.20" height="2.60" fill="rgba(35,35,35,0.3)" filter="url(#bb)"/>
<rect x="301.59" y="391.25" width="11.20" height="2.60" fill="rgba(35,35,35,0.6)" filter="url(#bb)"/>
<rect x="317.16" y="391.25" width="11.20" height="2.60" fill="rgba(35,35,35,0.75)" filter="url(#bb)"/>
<rect x="332.73" y="391.25" width="11.20" height="2.60" fill="rgba(35,35,35,0.05)" filter="url(#bb)"/>
<rect x="348.30" y="391.25" width="11.20" height="2.60" fill="rgba(35,35,35,0.3)" filter="url(#bb)"/>
<rect x="363.87" y="391.25" width="11.20" height="2.60" fill="rgba(35,35,35,0.6)" filter="url(#bb)"/>
<rect x="379.44" y="391.25" width="11.20" height="2.60" fill="rgba(35,35,35,0.85)" filter="url(#bb)"/>
<rect x="395.01" y="391.25" width="11.20" height="2.60" fill="rgba(35,35,35,0.55)" filter="url(#bb)"/>
<rect x="411.80" y="391.25" width="11.20" height="2.60" fill="rgba(35,35,35,0.8)" filter="url(#bb)"/>
<rect x="427.80" y="391.25" width="11.20" height="2.60" fill="rgba(35,35,35,0.45)" filter="url(#bb)"/>
<rect x="443.80" y="391.25" width="11.20" height="2.60" fill="rgba(35,35,35,0.6)" filter="url(#bb)"/>
<rect x="459.80" y="391.25" width="11.20" height="2.60" fill="rgba(35,35,35,0.6)" filter="url(#bb)"/>
<rect x="65.40" y="402.80" width="123.80" height="13.20" fill="#bfbfbf" filter="url(#bl)"/>
<rect x="190.20" y="402.80" width="108.20" height="13.20" fill="#bfbfbf" filter="url(#bl)"/>
<rect x="299.40" y="402.80" width="109.00" height="13.20" fill="#bfbfbf" filter="url(#bl)"/>
<rect x="409.40" y="402.80" width="64.00" height="13.20" fill="#bfbfbf" filter="url(#bl)"/>
<rect x="67.54" y="408.50" width="11.20" height="2.40" fill="rgba(35,35,35,0.05)" filter="url(#bb)"/>
<rect x="83.01" y="408.50" width="11.20" height="2.40" fill="rgba(35,35,35,0.7)" filter="url(#bb)"/>
<rect x="98.49" y="408.50" width="11.20" height="2.40" fill="rgba(35,35,35,0.5)" filter="url(#bb)"/>
<rect x="113.96" y="408.50" width="11.20" height="2.40" fill="rgba(35,35,35,0.85)" filter="url(#bb)"/>
<rect x="129.44" y="408.50" width="11.20" height="2.40" fill="rgba(35,35,35,0.75)" filter="url(#bb)"/>
<rect x="144.91" y="408.50" width="11.20" height="2.40" fill="rgba(35,35,35,0.75)" filter="url(#bb)"/>
<rect x="160.39" y="408.50" width="11.20" height="2.40" fill="rgba(35,35,35,0.45)" filter="url(#bb)"/>
<rect x="175.86" y="408.50" width="11.20" height="2.40" fill="rgba(35,35,35,0.6)" filter="url(#bb)"/>
<rect x="192.33" y="408.50" width="11.20" height="2.40" fill="rgba(35,35,35,0.75)" filter="url(#bb)"/>
<rect x="207.79" y="408.50" width="11.20" height="2.40" fill="rgba(35,35,35,0.4)" filter="url(#bb)"/>
<rect x="223.24" y="408.50" width="11.20" height="2.40" fill="rgba(35,35,35,0.5)" filter="url(#bb)"/>
<rect x="238.70" y="408.50" width="11.20" height="2.40" fill="rgba(35,35,35,0.75)" filter="url(#bb)"/>
<rect x="254.16" y="408.50" width="11.20" height="2.40" fill="rgba(35,35,35,0.55)" filter="url(#bb)"/>
<rect x="269.61" y="408.50" width="11.20" height="2.40" fill="rgba(35,35,35,0.55)" filter="url(#bb)"/>
<rect x="285.07" y="408.50" width="11.20" height="2.40" fill="rgba(35,35,35,0.65)" filter="url(#bb)"/>
<rect x="301.59" y="408.50" width="11.20" height="2.40" fill="rgba(35,35,35,0.8)" filter="url(#bb)"/>
<rect x="317.16" y="408.50" width="11.20" height="2.40" fill="rgba(35,35,35,0.8)" filter="url(#bb)"/>
<rect x="332.73" y="408.50" width="11.20" height="2.40" fill="rgba(35,35,35,0.15)" filter="url(#bb)"/>
<rect x="348.30" y="408.50" width="11.20" height="2.40" fill="rgba(35,35,35,0.4)" filter="url(#bb)"/>
<rect x="363.87" y="408.50" width="11.20" height="2.40" fill="rgba(35,35,35,0.55)" filter="url(#bb)"/>
<rect x="379.44" y="408.50" width="11.20" height="2.40" fill="rgba(35,35,35,0.75)" filter="url(#bb)"/>
<rect x="395.01" y="408.50" width="11.20" height="2.40" fill="rgba(35,35,35,0.55)" filter="url(#bb)"/>
<rect x="411.80" y="408.50" width="11.20" height="2.40" fill="rgba(35,35,35,0.85)" filter="url(#bb)"/>
<rect x="427.80" y="408.50" width="11.20" height="2.40" fill="rgba(35,35,35,0.7)" filter="url(#bb)"/>
<rect x="443.80" y="408.50" width="11.20" height="2.40" fill="rgba(35,35,35,0.6)" filter="url(#bb)"/>
<rect x="459.80" y="408.50" width="11.20" height="2.40" fill="rgba(35,35,35,0.65)" filter="url(#bb)"/>
<rect x="65.40" y="419.50" width="123.80" height="13.10" fill="#bfbfbf" filter="url(#bl)"/>
<rect x="190.20" y="419.50" width="108.20" height="13.10" fill="#bfbfbf" filter="url(#bl)"/>
<rect x="299.40" y="419.50" width="109.00" height="13.10" fill="#bfbfbf" filter="url(#bl)"/>
<rect x="409.40" y="419.50" width="64.00" height="13.10" fill="#bfbfbf" filter="url(#bl)"/>
<rect x="67.54" y="425.20" width="11.20" height="2.30" fill="rgba(35,35,35,0.72)" filter="url(#bb)"/>
<rect x="83.01" y="425.20" width="11.20" height="2.30" fill="rgba(35,35,35,0.7)" filter="url(#bb)"/>
<rect x="98.49" y="425.20" width="11.20" height="2.30" fill="rgba(35,35,35,0.7)" filter="url(#bb)"/>
<rect x="113.96" y="425.20" width="11.20" height="2.30" fill="rgba(35,35,35,0.7)" filter="url(#bb)"/>
<rect x="129.44" y="425.20" width="11.20" height="2.30" fill="rgba(35,35,35,0.55)" filter="url(#bb)"/>
<rect x="144.91" y="425.20" width="11.20" height="2.30" fill="rgba(35,35,35,0.7)" filter="url(#bb)"/>
<rect x="160.39" y="425.20" width="11.20" height="2.30" fill="rgba(35,35,35,0.5)" filter="url(#bb)"/>
<rect x="175.86" y="425.20" width="11.20" height="2.30" fill="rgba(35,35,35,0.7)" filter="url(#bb)"/>
<rect x="192.33" y="425.20" width="11.20" height="2.30" fill="rgba(35,35,35,0.75)" filter="url(#bb)"/>
<rect x="207.79" y="425.20" width="11.20" height="2.30" fill="rgba(35,35,35,0.7)" filter="url(#bb)"/>
<rect x="223.24" y="425.20" width="11.20" height="2.30" fill="rgba(35,35,35,0.75)" filter="url(#bb)"/>
<rect x="238.70" y="425.20" width="11.20" height="2.30" fill="rgba(35,35,35,0.75)" filter="url(#bb)"/>
<rect x="254.16" y="425.20" width="11.20" height="2.30" fill="rgba(35,35,35,0.7)" filter="url(#bb)"/>
<rect x="269.61" y="425.20" width="11.20" height="2.30" fill="rgba(35,35,35,0.75)" filter="url(#bb)"/>
<rect x="285.07" y="425.20" width="11.20" height="2.30" fill="rgba(35,35,35,0.7)" filter="url(#bb)"/>
<rect x="301.59" y="425.20" width="11.20" height="2.30" fill="rgba(35,35,35,0.7)" filter="url(#bb)"/>
<rect x="317.16" y="425.20" width="11.20" height="2.30" fill="rgba(35,35,35,0.7)" filter="url(#bb)"/>
<rect x="332.73" y="425.20" width="11.20" height="2.30" fill="rgba(35,35,35,0.7)" filter="url(#bb)"/>
<rect x="348.30" y="425.20" width="11.20" height="2.30" fill="rgba(35,35,35,0.7)" filter="url(#bb)"/>
<rect x="363.87" y="425.20" width="11.20" height="2.30" fill="rgba(35,35,35,0.7)" filter="url(#bb)"/>
<rect x="379.44" y="425.20" width="11.20" height="2.30" fill="rgba(35,35,35,0.7)" filter="url(#bb)"/>
<rect x="395.01" y="425.20" width="11.20" height="2.30" fill="rgba(35,35,35,0.7)" filter="url(#bb)"/>
<rect x="411.80" y="425.20" width="11.20" height="2.30" fill="rgba(35,35,35,0.7)" filter="url(#bb)"/>
<rect x="427.80" y="425.20" width="11.20" height="2.30" fill="rgba(35,35,35,0.7)" filter="url(#bb)"/>
<rect x="443.80" y="425.20" width="11.20" height="2.30" fill="rgba(35,35,35,0.7)" filter="url(#bb)"/>
<rect x="459.80" y="425.20" width="11.20" height="2.30" fill="rgba(35,35,35,0.7)" filter="url(#bb)"/>
<text x="477.30" y="379.20" font-size="9.8" stroke="#222" stroke-width="0.3">DGKA</text>
<text x="477.30" y="396.00" font-size="9.8" stroke="#222" stroke-width="0.3">p-cJUN</text>
<text x="477.30" y="413.20" font-size="9.8" stroke="#222" stroke-width="0.3">WEE1</text>
<text x="477.30" y="429.80" font-size="9.8" stroke="#222" stroke-width="0.3">β-Actin</text>
<text x="28.00" y="456.40" font-size="9.6" stroke="#222" stroke-width="0.3">Pt-based therapy:</text>
<polyline points="70.00,440.60 70.00,443.10 391.30,443.10 391.30,440.60" fill="none" stroke="#4b5b9b" stroke-width="1.1"/>
<text x="207.50" y="456.40" font-size="9.75" fill="#4b5b9b" stroke="#4b5b9b" stroke-width="0.3">Reponded</text>
<polyline points="393.80,440.60 393.80,443.10 471.30,443.10 471.30,440.60" fill="none" stroke="#d04a4a" stroke-width="1.1"/>
<text x="406.30" y="456.40" font-size="9.8" fill="#d04a4a" stroke="#d04a4a" stroke-width="0.3">No response</text>
<text x="1.60" y="490.20" font-size="16.5" fill="#111" stroke="#111" stroke-width="0.55" font-weight="bold">G</text>
<text x="49.60" y="480.30" font-size="9.85" stroke="#222" stroke-width="0.3">Ovarian cancer patient tumors</text>
<text x="119.30" y="492.20" font-size="8.8" text-anchor="middle" stroke="#222" stroke-width="0.3">* <tspan font-style="italic">P</tspan> = 0.0237</text>
<polyline points="98.30,500.00 98.30,497.60 141.30,497.60 141.30,500.00" fill="none" stroke="#222" stroke-width="1"/>
<text x="100.00" y="510.20" font-size="9.0" text-anchor="middle" stroke="#222" stroke-width="0.3">(<tspan font-style="italic">n</tspan> = 21)</text>
<text x="141.30" y="510.20" font-size="9.0" text-anchor="middle" stroke="#222" stroke-width="0.3">(<tspan font-style="italic">n</tspan> = 5)</text>
<line x1="72.80" y1="499.20" x2="72.80" y2="588.50" stroke="#2a2a2a" stroke-width="1.3"/>
<line x1="72.20" y1="587.90" x2="163.60" y2="587.90" stroke="#2a2a2a" stroke-width="1.3"/>
<line x1="70.00" y1="587.90" x2="72.80" y2="587.90" stroke="#2a2a2a" stroke-width="1.1"/>
<text x="68.80" y="591.50" font-size="10" text-anchor="end" stroke="#222" stroke-width="0.3">0</text>
<line x1="70.00" y1="565.87" x2="72.80" y2="565.87" stroke="#2a2a2a" stroke-width="1.1"/>
<text x="68.80" y="569.47" font-size="10" text-anchor="end" stroke="#222" stroke-width="0.3">1</text>
<line x1="70.00" y1="543.84" x2="72.80" y2="543.84" stroke="#2a2a2a" stroke-width="1.1"/>
<text x="68.80" y="547.44" font-size="10" text-anchor="end" stroke="#222" stroke-width="0.3">2</text>
<line x1="70.00" y1="521.81" x2="72.80" y2="521.81" stroke="#2a2a2a" stroke-width="1.1"/>
<text x="68.80" y="525.41" font-size="10" text-anchor="end" stroke="#222" stroke-width="0.3">3</text>
<line x1="70.00" y1="499.78" x2="72.80" y2="499.78" stroke="#2a2a2a" stroke-width="1.1"/>
<text x="68.80" y="503.38" font-size="10" text-anchor="end" stroke="#222" stroke-width="0.3">4</text>
<line x1="98.40" y1="587.90" x2="98.40" y2="590.40" stroke="#2a2a2a" stroke-width="1"/>
<line x1="141.40" y1="587.90" x2="141.40" y2="590.40" stroke="#2a2a2a" stroke-width="1"/>
<line x1="163.20" y1="587.90" x2="163.20" y2="585.40" stroke="#2a2a2a" stroke-width="1"/>
<text x="39.40" y="545.60" font-size="9.85" text-anchor="middle" stroke="#222" stroke-width="0.3" transform="rotate(-90 39.40 545.60)">Relative</text>
<text x="50.20" y="546.30" font-size="9.85" text-anchor="middle" stroke="#222" stroke-width="0.3" transform="rotate(-90 50.20 546.30)">DGKA expression</text>
<circle cx="98.40" cy="516.90" r="2.05" fill="#3f509e"/>
<circle cx="98.40" cy="524.60" r="2.05" fill="#3f509e"/>
<circle cx="104.80" cy="544.60" r="2.05" fill="#3f509e"/>
<circle cx="98.40" cy="547.20" r="2.05" fill="#3f509e"/>
<circle cx="98.40" cy="551.00" r="2.05" fill="#3f509e"/>
<circle cx="104.80" cy="551.80" r="2.05" fill="#3f509e"/>
<circle cx="98.40" cy="554.80" r="2.05" fill="#3f509e"/>
<circle cx="91.90" cy="558.40" r="2.05" fill="#3f509e"/>
<circle cx="98.40" cy="560.00" r="2.05" fill="#3f509e"/>
<circle cx="98.40" cy="568.50" r="2.05" fill="#3f509e"/>
<circle cx="104.80" cy="570.00" r="2.05" fill="#3f509e"/>
<circle cx="98.40" cy="572.40" r="2.05" fill="#3f509e"/>
<circle cx="91.90" cy="575.40" r="2.05" fill="#3f509e"/>
<circle cx="104.80" cy="576.20" r="2.05" fill="#3f509e"/>
<circle cx="98.40" cy="578.30" r="2.05" fill="#3f509e"/>
<circle cx="91.90" cy="581.30" r="2.05" fill="#3f509e"/>
<circle cx="104.80" cy="580.80" r="2.05" fill="#3f509e"/>
<circle cx="98.40" cy="584.40" r="2.05" fill="#3f509e"/>
<circle cx="91.90" cy="585.60" r="2.05" fill="#3f509e"/>
<circle cx="104.80" cy="586.20" r="2.05" fill="#3f509e"/>
<circle cx="91.90" cy="588.20" r="2.05" fill="#3f509e"/>
<line x1="85.00" y1="565.00" x2="112.50" y2="565.00" stroke="#111" stroke-width="1.4"/>
<line x1="98.40" y1="545.20" x2="98.40" y2="588.00" stroke="#3f509e" stroke-width="1.2"/>
<line x1="91.60" y1="545.20" x2="105.00" y2="545.20" stroke="#3f509e" stroke-width="1.2"/>
<line x1="141.30" y1="524.60" x2="141.30" y2="558.80" stroke="#d83636" stroke-width="1.2"/>
<line x1="133.90" y1="524.60" x2="148.80" y2="524.60" stroke="#d83636" stroke-width="1.2"/>
<line x1="133.90" y1="558.80" x2="148.80" y2="558.80" stroke="#d83636" stroke-width="1.2"/>
<circle cx="141.30" cy="522.60" r="2.05" fill="#d83636"/>
<circle cx="141.30" cy="527.00" r="2.05" fill="#d83636"/>
<circle cx="141.30" cy="543.70" r="2.05" fill="#d83636"/>
<circle cx="141.30" cy="550.50" r="2.05" fill="#d83636"/>
<circle cx="141.30" cy="563.80" r="2.05" fill="#d83636"/>
<line x1="127.60" y1="542.10" x2="155.00" y2="542.10" stroke="#111" stroke-width="1.4"/>
<text x="85.90" y="604.10" font-size="9.75" text-anchor="middle" stroke="#222" stroke-width="0.3">Responded</text>
<text x="156.00" y="604.10" font-size="9.75" text-anchor="middle" stroke="#222" stroke-width="0.3">No response</text>
<text x="120.30" y="618.60" font-size="9.78" text-anchor="middle" stroke="#222" stroke-width="0.3">Pt-based therapy</text>
<text x="208.60" y="490.20" font-size="16.5" fill="#111" stroke="#111" stroke-width="0.55" font-weight="bold">H</text>
<line x1="248.90" y1="498.90" x2="248.90" y2="590.50" stroke="#2a2a2a" stroke-width="1.3"/>
<line x1="248.30" y1="589.90" x2="350.30" y2="589.90" stroke="#2a2a2a" stroke-width="1.3"/>
<line x1="246.10" y1="589.90" x2="248.90" y2="589.90" stroke="#2a2a2a" stroke-width="1.1"/>
<text x="244.90" y="593.50" font-size="10" text-anchor="end" stroke="#222" stroke-width="0.3">0</text>
<line x1="246.10" y1="571.80" x2="248.90" y2="571.80" stroke="#2a2a2a" stroke-width="1.1"/>
<text x="244.90" y="575.40" font-size="10" text-anchor="end" stroke="#222" stroke-width="0.3">1</text>
<line x1="246.10" y1="553.70" x2="248.90" y2="553.70" stroke="#2a2a2a" stroke-width="1.1"/>
<text x="244.90" y="557.30" font-size="10" text-anchor="end" stroke="#222" stroke-width="0.3">2</text>
<line x1="246.10" y1="535.60" x2="248.90" y2="535.60" stroke="#2a2a2a" stroke-width="1.1"/>
<text x="244.90" y="539.20" font-size="10" text-anchor="end" stroke="#222" stroke-width="0.3">3</text>
<line x1="246.10" y1="517.50" x2="248.90" y2="517.50" stroke="#2a2a2a" stroke-width="1.1"/>
<text x="244.90" y="521.10" font-size="10" text-anchor="end" stroke="#222" stroke-width="0.3">4</text>
<line x1="246.10" y1="499.40" x2="248.90" y2="499.40" stroke="#2a2a2a" stroke-width="1.1"/>
<text x="244.90" y="503.00" font-size="10" text-anchor="end" stroke="#222" stroke-width="0.3">5</text>
<line x1="249.30" y1="589.90" x2="249.30" y2="592.50" stroke="#2a2a2a" stroke-width="1.1"/>
<text x="249.30" y="601.20" font-size="10" text-anchor="middle" stroke="#222" stroke-width="0.3">0</text>
<line x1="274.20" y1="589.90" x2="274.20" y2="592.50" stroke="#2a2a2a" stroke-width="1.1"/>
<text x="274.20" y="601.20" font-size="10" text-anchor="middle" stroke="#222" stroke-width="0.3">1</text>
<line x1="299.10" y1="589.90" x2="299.10" y2="592.50" stroke="#2a2a2a" stroke-width="1.1"/>
<text x="299.10" y="601.20" font-size="10" text-anchor="middle" stroke="#222" stroke-width="0.3">2</text>
<line x1="324.00" y1="589.90" x2="324.00" y2="592.50" stroke="#2a2a2a" stroke-width="1.1"/>
<text x="324.00" y="601.20" font-size="10" text-anchor="middle" stroke="#222" stroke-width="0.3">3</text>
<line x1="348.90" y1="589.90" x2="348.90" y2="592.50" stroke="#2a2a2a" stroke-width="1.1"/>
<text x="348.90" y="601.20" font-size="10" text-anchor="middle" stroke="#222" stroke-width="0.3">4</text>
<text x="274.10" y="619.40" font-size="10.1" stroke="#222" stroke-width="0.3">DGKA Level</text>
<text x="230.80" y="543.00" font-size="9.9" text-anchor="middle" stroke="#222" stroke-width="0.3" transform="rotate(-90 230.80 543.00)">p-cJUN Level</text>
<circle cx="328.25" cy="506.25" r="2.2" fill="#111"/>
<circle cx="294.50" cy="526.25" r="2.2" fill="#111"/>
<circle cx="298.00" cy="532.50" r="2.2" fill="#111"/>
<circle cx="320.50" cy="537.50" r="2.2" fill="#111"/>
<circle cx="289.50" cy="541.75" r="2.2" fill="#111"/>
<circle cx="322.50" cy="545.50" r="2.2" fill="#111"/>
<circle cx="317.50" cy="554.50" r="2.2" fill="#111"/>
<circle cx="271.25" cy="556.25" r="2.2" fill="#111"/>
<circle cx="282.50" cy="555.50" r="2.2" fill="#111"/>
<circle cx="263.25" cy="562.00" r="2.2" fill="#111"/>
<circle cx="266.25" cy="563.25" r="2.2" fill="#111"/>
<circle cx="269.50" cy="561.75" r="2.2" fill="#111"/>
<circle cx="260.00" cy="573.00" r="2.2" fill="#111"/>
<circle cx="279.50" cy="572.00" r="2.2" fill="#111"/>
<circle cx="288.75" cy="572.50" r="2.2" fill="#111"/>
<circle cx="291.25" cy="572.00" r="2.2" fill="#111"/>
<circle cx="298.25" cy="570.75" r="2.2" fill="#111"/>
<circle cx="276.25" cy="579.25" r="2.2" fill="#111"/>
<circle cx="283.25" cy="576.25" r="2.2" fill="#111"/>
<circle cx="258.00" cy="580.75" r="2.2" fill="#111"/>
<circle cx="254.50" cy="582.50" r="2.2" fill="#111"/>
<circle cx="263.75" cy="582.00" r="2.2" fill="#111"/>
<circle cx="259.25" cy="585.50" r="2.2" fill="#111"/>
<circle cx="253.00" cy="586.25" r="2.2" fill="#111"/>
<circle cx="251.25" cy="587.50" r="2.2" fill="#111"/>
<circle cx="250.00" cy="588.75" r="2.2" fill="#111"/>
<text x="320.20" y="489.60" font-size="9.5" text-anchor="end" stroke="#222" stroke-width="0.3"><tspan font-style="italic">r</tspan> = 0.876</text>
<text x="320.20" y="502.60" font-size="9.5" text-anchor="end" stroke="#222" stroke-width="0.3">**** <tspan font-style="italic">n</tspan> = 26</text>
<text x="371.60" y="489.20" font-size="16.5" fill="#111" stroke="#111" stroke-width="0.55" font-weight="bold">I</text>
<line x1="408.50" y1="497.95" x2="408.50" y2="591.00" stroke="#2a2a2a" stroke-width="1.3"/>
<line x1="407.90" y1="590.40" x2="510.50" y2="590.40" stroke="#2a2a2a" stroke-width="1.3"/>
<line x1="405.70" y1="590.40" x2="408.50" y2="590.40" stroke="#2a2a2a" stroke-width="1.1"/>
<text x="404.50" y="594.00" font-size="10" text-anchor="end" stroke="#222" stroke-width="0.3">0</text>
<line x1="405.70" y1="559.75" x2="408.50" y2="559.75" stroke="#2a2a2a" stroke-width="1.1"/>
<text x="404.50" y="563.35" font-size="10" text-anchor="end" stroke="#222" stroke-width="0.3">1</text>
<line x1="405.70" y1="529.10" x2="408.50" y2="529.10" stroke="#2a2a2a" stroke-width="1.1"/>
<text x="404.50" y="532.70" font-size="10" text-anchor="end" stroke="#222" stroke-width="0.3">2</text>
<line x1="405.70" y1="498.45" x2="408.50" y2="498.45" stroke="#2a2a2a" stroke-width="1.1"/>
<text x="404.50" y="502.05" font-size="10" text-anchor="end" stroke="#222" stroke-width="0.3">3</text>
<line x1="408.90" y1="590.40" x2="408.90" y2="593.00" stroke="#2a2a2a" stroke-width="1.1"/>
<text x="408.90" y="601.70" font-size="10" text-anchor="middle" stroke="#222" stroke-width="0.3">0</text>
<line x1="433.80" y1="590.40" x2="433.80" y2="593.00" stroke="#2a2a2a" stroke-width="1.1"/>
<text x="433.80" y="601.70" font-size="10" text-anchor="middle" stroke="#222" stroke-width="0.3">1</text>
<line x1="458.70" y1="590.40" x2="458.70" y2="593.00" stroke="#2a2a2a" stroke-width="1.1"/>
<text x="458.70" y="601.70" font-size="10" text-anchor="middle" stroke="#222" stroke-width="0.3">2</text>
<line x1="483.60" y1="590.40" x2="483.60" y2="593.00" stroke="#2a2a2a" stroke-width="1.1"/>
<text x="483.60" y="601.70" font-size="10" text-anchor="middle" stroke="#222" stroke-width="0.3">3</text>
<line x1="508.50" y1="590.40" x2="508.50" y2="593.00" stroke="#2a2a2a" stroke-width="1.1"/>
<text x="508.50" y="601.70" font-size="10" text-anchor="middle" stroke="#222" stroke-width="0.3">4</text>
<text x="433.70" y="619.90" font-size="10.1" stroke="#222" stroke-width="0.3">DGKA Level</text>
<text x="391.60" y="540.70" font-size="9.9" text-anchor="middle" stroke="#222" stroke-width="0.3" transform="rotate(-90 391.60 540.70)">WEE1 Level</text>
<circle cx="488.60" cy="519.80" r="2.2" fill="#111"/>
<circle cx="450.20" cy="523.20" r="2.2" fill="#111"/>
<circle cx="454.80" cy="526.90" r="2.2" fill="#111"/>
<circle cx="477.50" cy="535.50" r="2.2" fill="#111"/>
<circle cx="457.80" cy="539.80" r="2.2" fill="#111"/>
<circle cx="431.70" cy="546.00" r="2.2" fill="#111"/>
<circle cx="443.70" cy="545.40" r="2.2" fill="#111"/>
<circle cx="424.60" cy="553.10" r="2.2" fill="#111"/>
<circle cx="430.20" cy="553.10" r="2.2" fill="#111"/>
<circle cx="423.10" cy="555.20" r="2.2" fill="#111"/>
<circle cx="439.40" cy="556.20" r="2.2" fill="#111"/>
<circle cx="458.50" cy="554.90" r="2.2" fill="#111"/>
<circle cx="480.60" cy="547.50" r="2.2" fill="#111"/>
<circle cx="483.10" cy="549.40" r="2.2" fill="#111"/>
<circle cx="451.70" cy="560.20" r="2.2" fill="#111"/>
<circle cx="436.90" cy="560.80" r="2.2" fill="#111"/>
<circle cx="443.10" cy="562.30" r="2.2" fill="#111"/>
<circle cx="420.00" cy="563.20" r="2.2" fill="#111"/>
<circle cx="448.60" cy="570.90" r="2.2" fill="#111"/>
<circle cx="423.70" cy="569.40" r="2.2" fill="#111"/>
<circle cx="417.50" cy="570.60" r="2.2" fill="#111"/>
<circle cx="414.50" cy="574.00" r="2.2" fill="#111"/>
<circle cx="411.70" cy="579.20" r="2.2" fill="#111"/>
<circle cx="413.80" cy="586.00" r="2.2" fill="#111"/>
<circle cx="409.20" cy="587.50" r="2.2" fill="#111"/>
<circle cx="419.00" cy="571.50" r="2.2" fill="#111"/>
<text x="443.00" y="487.90" font-size="9.5" stroke="#222" stroke-width="0.3"><tspan font-style="italic">r</tspan> = 0.741</text>
<text x="443.00" y="500.90" font-size="9.5" stroke="#222" stroke-width="0.3">**** <tspan font-style="italic">n</tspan> = 26</text>
<text x="2.60" y="641.40" font-size="16.5" fill="#111" stroke="#111" stroke-width="0.55" font-weight="bold">J</text>
<text x="33.90" y="703.00" font-size="9.8" text-anchor="middle" stroke="#222" stroke-width="0.3" transform="rotate(-90 33.90 703.00)">IHC of Pt-treated ovarian cancer</text>
<text x="45.40" y="703.80" font-size="9.8" text-anchor="middle" stroke="#222" stroke-width="0.3" transform="rotate(-90 45.40 703.80)">patient-derived tumors</text>
<text x="88.90" y="636.40" font-size="9.9" text-anchor="middle" stroke="#222" stroke-width="0.3">DGKA</text>
<text x="88.90" y="702.50" font-size="9.8" text-anchor="middle" stroke="#222" stroke-width="0.3">Pt-1</text>
<text x="88.90" y="767.30" font-size="9.8" text-anchor="middle" stroke="#222" stroke-width="0.3">Pt-3</text>
<text x="159.00" y="636.40" font-size="9.9" text-anchor="middle" stroke="#222" stroke-width="0.3">p-cJUN</text>
<text x="159.00" y="702.50" font-size="9.8" text-anchor="middle" stroke="#222" stroke-width="0.3">Pt-11</text>
<text x="159.00" y="767.30" font-size="9.8" text-anchor="middle" stroke="#222" stroke-width="0.3">Pt-15</text>
<text x="232.00" y="636.40" font-size="9.9" text-anchor="middle" stroke="#222" stroke-width="0.3">WEE1</text>
<text x="232.00" y="702.50" font-size="9.8" text-anchor="middle" stroke="#222" stroke-width="0.3">Pt-14</text>
<text x="232.00" y="767.30" font-size="9.8" text-anchor="middle" stroke="#222" stroke-width="0.3">Pt-5</text>
<text x="329.20" y="636.40" font-size="9.9" text-anchor="middle" stroke="#222" stroke-width="0.3">DGKA</text>
<text x="329.20" y="702.50" font-size="9.8" text-anchor="middle" stroke="#222" stroke-width="0.3">Pt-24</text>
<text x="329.20" y="767.30" font-size="9.8" text-anchor="middle" stroke="#222" stroke-width="0.3">Pt-22</text>
<text x="399.10" y="636.40" font-size="9.9" text-anchor="middle" stroke="#222" stroke-width="0.3">p-cJUN</text>
<text x="399.10" y="702.50" font-size="9.8" text-anchor="middle" stroke="#222" stroke-width="0.3">Pt-23</text>
<text x="399.10" y="767.30" font-size="9.8" text-anchor="middle" stroke="#222" stroke-width="0.3">Pt-26</text>
<text x="472.00" y="636.40" font-size="9.9" text-anchor="middle" stroke="#222" stroke-width="0.3">WEE1</text>
<text x="472.00" y="702.50" font-size="9.8" text-anchor="middle" stroke="#222" stroke-width="0.3">Pt-25</text>
<text x="472.00" y="767.30" font-size="9.8" text-anchor="middle" stroke="#222" stroke-width="0.3">Pt-23</text>
<line x1="54.50" y1="771.90" x2="261.50" y2="771.90" stroke="#555" stroke-width="1.3"/>
<line x1="296.30" y1="771.90" x2="503.80" y2="771.90" stroke="#555" stroke-width="1.3"/>
<text x="159.00" y="781.90" font-size="9.8" text-anchor="middle" stroke="#222" stroke-width="0.3">Responded</text>
<text x="399.20" y="782.40" font-size="9.8" text-anchor="middle" stroke="#222" stroke-width="0.3">No response</text>
<g clip-path="url(#c5)"><g filter="url(#ct5)">
<rect x="54.50" y="642.10" width="65.60" height="50.70" fill="#c4c5e2" filter="url(#t5)"/>
</g>
<path d="M81,664 Q90,660 97,667 Q95,677 86,678 Q80,672 81,664 Z" fill="#efe6e8" fill-opacity="0.9" filter="url(#pblur)"/>
<path d="M69,694 Q77,680 85.4,667 Q89,657 91.5,648 L94.6,640" fill="none" stroke="#f4f2f5" stroke-width="3.4" stroke-opacity="0.95" stroke-linecap="round" stroke-linejoin="round" filter="url(#sblur)"/>
<path d="M85.4,667 Q93,668 100.8,671.4 Q106,676 111.5,680.6 L120,686" fill="none" stroke="#f4f2f5" stroke-width="3.4" stroke-opacity="0.95" stroke-linecap="round" stroke-linejoin="round" filter="url(#sblur)"/>
<path d="M53,666.8 Q62,668 70,671.4 Q74,680 76.2,694" fill="none" stroke="#f4f2f5" stroke-width="2.8" stroke-opacity="0.9" stroke-linecap="round" stroke-linejoin="round" filter="url(#sblur)"/>
</g>
<line x1="111.00" y1="687.80" x2="116.50" y2="687.80" stroke="#111" stroke-width="1.5"/>
<g clip-path="url(#c6)"><g filter="url(#ct6)">
<rect x="126.20" y="642.10" width="65.60" height="50.70" fill="#c7cae3" filter="url(#t6)"/>
</g>
<path d="M163.5,641 Q166,660 166,678" fill="none" stroke="#dcdce4" stroke-width="6.5" stroke-opacity="0.85" stroke-linecap="round" stroke-linejoin="round" filter="url(#sblur)"/>
</g>
<line x1="183.00" y1="688.00" x2="188.50" y2="688.00" stroke="#111" stroke-width="1.5"/>
<g clip-path="url(#c7)"><g filter="url(#ct7)">
<rect x="199.20" y="642.10" width="65.60" height="50.70" fill="#b4b9df" filter="url(#t7)"/>
</g>
<path d="M199,668 Q212,670 222,693 L199,693 Z" fill="#c9cbe6" fill-opacity="0.8" filter="url(#pblur)"/>
<path d="M226,650 q6,-2 10,2 q-4,4 -10,-2 Z" fill="#dcdcef" fill-opacity="0.8" filter="url(#pblur)"/>
</g>
<line x1="256.00" y1="688.00" x2="261.50" y2="688.00" stroke="#111" stroke-width="1.5"/>
<g clip-path="url(#c8)"><g filter="url(#ct8)">
<rect x="293.80" y="642.10" width="65.60" height="50.70" fill="#d8cac6" filter="url(#t8)"/>
</g>
</g>
<line x1="350.50" y1="688.00" x2="356.00" y2="688.00" stroke="#111" stroke-width="1.5"/>
<g clip-path="url(#c9)"><g filter="url(#ct9)">
<rect x="366.30" y="642.10" width="65.60" height="50.70" fill="#cdd1e6" filter="url(#t9)"/>
</g>
</g>
<line x1="423.50" y1="688.00" x2="429.00" y2="688.00" stroke="#111" stroke-width="1.5"/>
<g clip-path="url(#c10)"><g filter="url(#ct10)">
<rect x="438.80" y="642.10" width="65.60" height="50.70" fill="#d3d3dd" filter="url(#t10)"/>
</g>
<path d="M439,668 Q450,672 456,693 L439,693 Z" fill="#e6e6ec" fill-opacity="0.75" filter="url(#pblur)"/>
</g>
<line x1="496.00" y1="688.00" x2="501.50" y2="688.00" stroke="#111" stroke-width="1.5"/>
<g clip-path="url(#c11)"><g filter="url(#ct11)">
<rect x="54.50" y="706.40" width="65.60" height="50.40" fill="#c0c1e0" filter="url(#t11)"/>
</g>
<path d="M96,706 L114,706 L114,712 L96,712 Z" fill="#ddd2cc" fill-opacity="0.85" filter="url(#pblur)"/>
<path d="M76,750 L87,750 L87,758 L76,758 Z" fill="#ddd2cc" fill-opacity="0.85" filter="url(#pblur)"/>
<path d="M84.3,705 Q88,709 92.4,712 Q96,715 99.1,718.8 Q102,723 105.8,726.9 Q108,729 111.2,730.9 L121,733" fill="none" stroke="#f4f2f5" stroke-width="2.8" stroke-opacity="0.92" stroke-linecap="round" stroke-linejoin="round" filter="url(#sblur)"/>
<path d="M78.9,710 Q81,720 80.3,730.9 Q77,736 73.5,741.7 Q71,745 69.5,748.4 L64.5,758" fill="none" stroke="#f4f2f5" stroke-width="2.8" stroke-opacity="0.9" stroke-linecap="round" stroke-linejoin="round" filter="url(#sblur)"/>
<path d="M52,737.6 Q58,741 65.5,744.4" fill="none" stroke="#f4f2f5" stroke-width="2.2" stroke-opacity="0.8" stroke-linecap="round" stroke-linejoin="round" filter="url(#sblur)"/>
<path d="M105.8,726.9 Q109,735 108.5,744.4 L106,758" fill="none" stroke="#f4f2f5" stroke-width="2.2" stroke-opacity="0.8" stroke-linecap="round" stroke-linejoin="round" filter="url(#sblur)"/>
</g>
<line x1="111.00" y1="752.80" x2="116.50" y2="752.80" stroke="#111" stroke-width="1.5"/>
<g clip-path="url(#c12)"><g filter="url(#ct12)">
<rect x="126.20" y="706.40" width="65.60" height="50.40" fill="#cacbe0" filter="url(#t12)"/>
</g>
<path d="M164,706 Q150,725 132,757" fill="none" stroke="#d6d6e2" stroke-width="7" stroke-opacity="0.55" stroke-linecap="round" stroke-linejoin="round" filter="url(#sblur)"/>
</g>
<line x1="183.00" y1="752.80" x2="188.50" y2="752.80" stroke="#111" stroke-width="1.5"/>
<g clip-path="url(#c13)"><g filter="url(#ct13)">
<rect x="199.20" y="706.40" width="65.60" height="50.40" fill="#dcd8dc" filter="url(#t13)"/>
<g fill="#6a72b8" filter="url(#nblur)"><ellipse cx="240.1" cy="743.8" rx="3.2" ry="2.5" transform="rotate(133 240.1 743.8)" fill-opacity="0.93"/><ellipse cx="201.1" cy="729.9" rx="3.3" ry="2.2" transform="rotate(162 201.1 729.9)" fill-opacity="0.77"/><ellipse cx="230.0" cy="718.8" rx="2.9" ry="2.2" transform="rotate(2 230.0 718.8)" fill-opacity="0.79"/><ellipse cx="217.5" cy="752.6" rx="3.1" ry="1.8" transform="rotate(143 217.5 752.6)" fill-opacity="0.78"/><ellipse cx="239.7" cy="712.8" rx="2.2" ry="2.5" transform="rotate(38 239.7 712.8)" fill-opacity="0.79"/><ellipse cx="234.6" cy="740.6" rx="2.4" ry="2.5" transform="rotate(124 234.6 740.6)" fill-opacity="0.94"/><ellipse cx="257.8" cy="721.5" rx="2.6" ry="1.8" transform="rotate(26 257.8 721.5)" fill-opacity="0.76"/><ellipse cx="219.0" cy="736.8" rx="2.2" ry="2.3" transform="rotate(61 219.0 736.8)" fill-opacity="0.81"/><ellipse cx="252.9" cy="730.6" rx="2.6" ry="2.1" transform="rotate(127 252.9 730.6)" fill-opacity="0.76"/><ellipse cx="263.2" cy="707.6" rx="3.1" ry="2.4" transform="rotate(3 263.2 707.6)" fill-opacity="0.91"/><ellipse cx="199.8" cy="708.8" rx="2.4" ry="2.6" transform="rotate(35 199.8 708.8)" fill-opacity="0.90"/><ellipse cx="221.8" cy="724.3" rx="2.8" ry="2.4" transform="rotate(19 221.8 724.3)" fill-opacity="0.90"/><ellipse cx="201.6" cy="754.1" rx="2.3" ry="1.9" transform="rotate(110 201.6 754.1)" fill-opacity="0.93"/><ellipse cx="235.0" cy="722.1" rx="2.6" ry="1.8" transform="rotate(14 235.0 722.1)" fill-opacity="0.78"/><ellipse cx="244.4" cy="756.6" rx="2.4" ry="1.6" transform="rotate(178 244.4 756.6)" fill-opacity="0.86"/><ellipse cx="229.1" cy="727.7" rx="2.3" ry="2.5" transform="rotate(6 229.1 727.7)" fill-opacity="0.85"/><ellipse cx="254.2" cy="713.0" rx="3.1" ry="2.5" transform="rotate(113 254.2 713.0)" fill-opacity="0.91"/><ellipse cx="206.2" cy="728.3" rx="2.4" ry="2.4" transform="rotate(53 206.2 728.3)" fill-opacity="0.84"/><ellipse cx="263.2" cy="729.3" rx="2.8" ry="2.3" transform="rotate(86 263.2 729.3)" fill-opacity="0.81"/><ellipse cx="225.7" cy="713.8" rx="2.7" ry="2.6" transform="rotate(173 225.7 713.8)" fill-opacity="0.88"/><ellipse cx="205.0" cy="720.1" rx="3.1" ry="2.5" transform="rotate(65 205.0 720.1)" fill-opacity="0.91"/><ellipse cx="223.0" cy="741.9" rx="2.5" ry="2.1" transform="rotate(139 223.0 741.9)" fill-opacity="0.89"/><ellipse cx="241.8" cy="735.7" rx="2.2" ry="2.1" transform="rotate(45 241.8 735.7)" fill-opacity="0.88"/><ellipse cx="229.6" cy="747.6" rx="3.0" ry="2.4" transform="rotate(63 229.6 747.6)" fill-opacity="0.88"/><ellipse cx="247.6" cy="748.1" rx="2.6" ry="2.4" transform="rotate(157 247.6 748.1)" fill-opacity="0.89"/><ellipse cx="233.2" cy="733.1" rx="2.4" ry="2.4" transform="rotate(169 233.2 733.1)" fill-opacity="0.85"/><ellipse cx="247.1" cy="715.1" rx="3.1" ry="2.2" transform="rotate(120 247.1 715.1)" fill-opacity="0.83"/><ellipse cx="201.0" cy="714.5" rx="2.7" ry="2.3" transform="rotate(39 201.0 714.5)" fill-opacity="0.89"/><ellipse cx="220.0" cy="715.5" rx="2.4" ry="1.6" transform="rotate(84 220.0 715.5)" fill-opacity="0.83"/><ellipse cx="217.5" cy="727.1" rx="2.3" ry="2.4" transform="rotate(67 217.5 727.1)" fill-opacity="0.76"/><ellipse cx="237.3" cy="754.7" rx="3.2" ry="2.0" transform="rotate(146 237.3 754.7)" fill-opacity="0.88"/><ellipse cx="257.8" cy="706.4" rx="2.3" ry="2.2" transform="rotate(111 257.8 706.4)" fill-opacity="0.78"/><ellipse cx="214.0" cy="721.1" rx="3.4" ry="2.0" transform="rotate(173 214.0 721.1)" fill-opacity="0.93"/><ellipse cx="207.2" cy="737.7" rx="2.7" ry="1.9" transform="rotate(141 207.2 737.7)" fill-opacity="0.92"/><ellipse cx="264.1" cy="721.2" rx="2.9" ry="2.1" transform="rotate(116 264.1 721.2)" fill-opacity="0.87"/><ellipse cx="249.1" cy="721.6" rx="2.8" ry="1.9" transform="rotate(53 249.1 721.6)" fill-opacity="0.86"/><ellipse cx="248.1" cy="736.2" rx="2.2" ry="1.9" transform="rotate(82 248.1 736.2)" fill-opacity="0.93"/><ellipse cx="257.4" cy="733.9" rx="2.2" ry="2.4" transform="rotate(77 257.4 733.9)" fill-opacity="0.87"/><ellipse cx="203.5" cy="748.5" rx="3.0" ry="2.0" transform="rotate(52 203.5 748.5)" fill-opacity="0.91"/><ellipse cx="214.3" cy="747.7" rx="3.2" ry="2.3" transform="rotate(5 214.3 747.7)" fill-opacity="0.89"/><ellipse cx="245.2" cy="708.9" rx="3.2" ry="1.8" transform="rotate(116 245.2 708.9)" fill-opacity="0.94"/><ellipse cx="238.6" cy="731.1" rx="3.3" ry="2.0" transform="rotate(10 238.6 731.1)" fill-opacity="0.89"/><ellipse cx="232.4" cy="752.3" rx="2.9" ry="2.2" transform="rotate(47 232.4 752.3)" fill-opacity="0.86"/><ellipse cx="233.1" cy="713.1" rx="2.5" ry="2.0" transform="rotate(133 233.1 713.1)" fill-opacity="0.79"/><ellipse cx="220.4" cy="746.5" rx="2.2" ry="2.3" transform="rotate(10 220.4 746.5)" fill-opacity="0.78"/><ellipse cx="213.8" cy="712.3" rx="3.4" ry="2.3" transform="rotate(148 213.8 712.3)" fill-opacity="0.78"/><ellipse cx="240.2" cy="724.3" rx="2.5" ry="1.9" transform="rotate(110 240.2 724.3)" fill-opacity="0.82"/><ellipse cx="205.6" cy="708.1" rx="2.4" ry="1.6" transform="rotate(160 205.6 708.1)" fill-opacity="0.85"/><ellipse cx="223.4" cy="753.7" rx="3.0" ry="2.3" transform="rotate(85 223.4 753.7)" fill-opacity="0.94"/><ellipse cx="247.2" cy="742.6" rx="2.4" ry="1.8" transform="rotate(121 247.2 742.6)" fill-opacity="0.94"/><ellipse cx="226.1" cy="708.7" rx="2.9" ry="2.6" transform="rotate(93 226.1 708.7)" fill-opacity="0.82"/><ellipse cx="219.3" cy="709.0" rx="2.2" ry="2.6" transform="rotate(32 219.3 709.0)" fill-opacity="0.85"/><ellipse cx="225.6" cy="733.2" rx="2.3" ry="1.9" transform="rotate(19 225.6 733.2)" fill-opacity="0.86"/><ellipse cx="239.3" cy="718.0" rx="2.7" ry="2.0" transform="rotate(59 239.3 718.0)" fill-opacity="0.75"/><ellipse cx="245.7" cy="728.9" rx="3.3" ry="2.4" transform="rotate(21 245.7 728.9)" fill-opacity="0.81"/><ellipse cx="249.5" cy="753.6" rx="2.8" ry="2.6" transform="rotate(107 249.5 753.6)" fill-opacity="0.77"/><ellipse cx="201.4" cy="735.5" rx="2.8" ry="2.5" transform="rotate(71 201.4 735.5)" fill-opacity="0.79"/><ellipse cx="211.3" cy="726.0" rx="2.6" ry="1.6" transform="rotate(56 211.3 726.0)" fill-opacity="0.83"/><ellipse cx="212.9" cy="732.4" rx="3.3" ry="1.8" transform="rotate(175 212.9 732.4)" fill-opacity="0.86"/><ellipse cx="242.0" cy="751.7" rx="3.3" ry="2.2" transform="rotate(70 242.0 751.7)" fill-opacity="0.77"/><ellipse cx="262.6" cy="715.8" rx="2.2" ry="1.7" transform="rotate(101 262.6 715.8)" fill-opacity="0.87"/><ellipse cx="214.2" cy="741.5" rx="3.2" ry="2.1" transform="rotate(18 214.2 741.5)" fill-opacity="0.79"/></g>
</g>
<path d="M253,737 L257,758" fill="none" stroke="#fbfbfb" stroke-width="5" stroke-opacity="0.85" stroke-linecap="round" stroke-linejoin="round" filter="url(#sblur)"/>
</g>
<line x1="256.00" y1="752.80" x2="261.50" y2="752.80" stroke="#111" stroke-width="1.5"/>
<g clip-path="url(#c14)"><g filter="url(#ct14)">
<rect x="293.80" y="706.40" width="65.60" height="50.40" fill="#c3bdd0" filter="url(#t14)"/>
</g>
<path d="M300,720 q10,0 16,10 q-6,8 -16,2 Z" fill="#d8c8cc" fill-opacity="0.6" filter="url(#pblur)"/>
<path d="M328,744 q10,-6 16,2 l0,12 l-16,0 Z" fill="#d8c8cc" fill-opacity="0.5" filter="url(#pblur)"/>
</g>
<line x1="350.50" y1="752.80" x2="356.00" y2="752.80" stroke="#111" stroke-width="1.5"/>
<g clip-path="url(#c15)"><g filter="url(#ct15)">
<rect x="366.30" y="706.40" width="65.60" height="50.40" fill="#ececef" filter="url(#t15)"/>
<g fill="#6e6e86" filter="url(#nblur)"><ellipse cx="418.3" cy="747.8" rx="2.3" ry="1.7" transform="rotate(0 418.3 747.8)" fill-opacity="0.77"/><ellipse cx="397.1" cy="744.7" rx="2.2" ry="2.1" transform="rotate(49 397.1 744.7)" fill-opacity="0.82"/><ellipse cx="414.2" cy="727.3" rx="2.3" ry="2.0" transform="rotate(35 414.2 727.3)" fill-opacity="0.72"/><ellipse cx="419.1" cy="719.8" rx="2.6" ry="2.0" transform="rotate(152 419.1 719.8)" fill-opacity="0.63"/><ellipse cx="372.4" cy="746.7" rx="2.6" ry="1.9" transform="rotate(17 372.4 746.7)" fill-opacity="0.58"/><ellipse cx="408.0" cy="721.1" rx="2.8" ry="2.0" transform="rotate(36 408.0 721.1)" fill-opacity="0.76"/><ellipse cx="389.9" cy="753.4" rx="2.7" ry="1.9" transform="rotate(116 389.9 753.4)" fill-opacity="0.78"/><ellipse cx="419.1" cy="755.6" rx="1.8" ry="1.8" transform="rotate(108 419.1 755.6)" fill-opacity="0.62"/><ellipse cx="404.9" cy="710.9" rx="2.7" ry="1.9" transform="rotate(21 404.9 710.9)" fill-opacity="0.77"/><ellipse cx="386.8" cy="716.3" rx="2.3" ry="1.6" transform="rotate(38 386.8 716.3)" fill-opacity="0.85"/><ellipse cx="412.1" cy="707.0" rx="2.6" ry="1.5" transform="rotate(60 412.1 707.0)" fill-opacity="0.86"/><ellipse cx="391.1" cy="726.0" rx="1.9" ry="2.3" transform="rotate(10 391.1 726.0)" fill-opacity="0.67"/><ellipse cx="430.7" cy="718.8" rx="2.8" ry="2.2" transform="rotate(121 430.7 718.8)" fill-opacity="0.86"/><ellipse cx="418.5" cy="732.4" rx="2.3" ry="2.1" transform="rotate(74 418.5 732.4)" fill-opacity="0.53"/><ellipse cx="377.6" cy="707.5" rx="1.9" ry="2.0" transform="rotate(65 377.6 707.5)" fill-opacity="0.60"/><ellipse cx="395.9" cy="753.2" rx="2.1" ry="1.8" transform="rotate(158 395.9 753.2)" fill-opacity="0.74"/><ellipse cx="383.9" cy="730.3" rx="2.3" ry="1.6" transform="rotate(68 383.9 730.3)" fill-opacity="0.62"/><ellipse cx="409.5" cy="755.3" rx="2.7" ry="1.8" transform="rotate(109 409.5 755.3)" fill-opacity="0.63"/><ellipse cx="392.4" cy="731.0" rx="2.6" ry="2.2" transform="rotate(52 392.4 731.0)" fill-opacity="0.50"/><ellipse cx="395.8" cy="709.3" rx="1.8" ry="2.1" transform="rotate(20 395.8 709.3)" fill-opacity="0.79"/><ellipse cx="422.3" cy="709.5" rx="2.0" ry="2.3" transform="rotate(110 422.3 709.5)" fill-opacity="0.67"/><ellipse cx="398.6" cy="730.0" rx="1.9" ry="1.8" transform="rotate(26 398.6 730.0)" fill-opacity="0.75"/><ellipse cx="373.2" cy="738.9" rx="2.3" ry="2.2" transform="rotate(113 373.2 738.9)" fill-opacity="0.78"/><ellipse cx="426.1" cy="752.1" rx="2.7" ry="1.9" transform="rotate(125 426.1 752.1)" fill-opacity="0.82"/><ellipse cx="375.3" cy="753.9" rx="2.7" ry="1.9" transform="rotate(140 375.3 753.9)" fill-opacity="0.68"/><ellipse cx="384.4" cy="742.3" rx="1.9" ry="2.1" transform="rotate(176 384.4 742.3)" fill-opacity="0.61"/><ellipse cx="427.9" cy="710.6" rx="2.7" ry="1.7" transform="rotate(174 427.9 710.6)" fill-opacity="0.67"/><ellipse cx="408.2" cy="733.4" rx="1.8" ry="1.6" transform="rotate(67 408.2 733.4)" fill-opacity="0.52"/><ellipse cx="431.4" cy="745.0" rx="2.7" ry="2.1" transform="rotate(62 431.4 745.0)" fill-opacity="0.53"/><ellipse cx="414.3" cy="712.1" rx="2.3" ry="1.9" transform="rotate(89 414.3 712.1)" fill-opacity="0.53"/><ellipse cx="371.2" cy="732.6" rx="1.8" ry="1.9" transform="rotate(27 371.2 732.6)" fill-opacity="0.61"/><ellipse cx="391.8" cy="717.6" rx="2.0" ry="2.0" transform="rotate(164 391.8 717.6)" fill-opacity="0.67"/><ellipse cx="377.0" cy="722.4" rx="2.0" ry="2.0" transform="rotate(142 377.0 722.4)" fill-opacity="0.73"/><ellipse cx="402.4" cy="739.8" rx="2.5" ry="2.0" transform="rotate(145 402.4 739.8)" fill-opacity="0.65"/><ellipse cx="403.4" cy="752.9" rx="2.1" ry="1.9" transform="rotate(130 403.4 752.9)" fill-opacity="0.85"/><ellipse cx="374.2" cy="712.1" rx="2.8" ry="1.5" transform="rotate(166 374.2 712.1)" fill-opacity="0.80"/><ellipse cx="410.6" cy="743.2" rx="2.5" ry="1.7" transform="rotate(80 410.6 743.2)" fill-opacity="0.58"/><ellipse cx="368.4" cy="724.9" rx="1.9" ry="2.3" transform="rotate(5 368.4 724.9)" fill-opacity="0.87"/><ellipse cx="428.5" cy="728.4" rx="2.6" ry="1.5" transform="rotate(25 428.5 728.4)" fill-opacity="0.50"/><ellipse cx="370.8" cy="706.5" rx="2.6" ry="1.6" transform="rotate(106 370.8 706.5)" fill-opacity="0.61"/><ellipse cx="375.0" cy="727.5" rx="2.0" ry="2.3" transform="rotate(69 375.0 727.5)" fill-opacity="0.74"/><ellipse cx="397.8" cy="720.0" rx="1.9" ry="2.2" transform="rotate(35 397.8 720.0)" fill-opacity="0.68"/><ellipse cx="400.0" cy="712.4" rx="2.4" ry="1.9" transform="rotate(155 400.0 712.4)" fill-opacity="0.71"/><ellipse cx="390.1" cy="706.7" rx="2.1" ry="1.6" transform="rotate(112 390.1 706.7)" fill-opacity="0.81"/><ellipse cx="414.1" cy="752.6" rx="2.0" ry="1.6" transform="rotate(113 414.1 752.6)" fill-opacity="0.84"/><ellipse cx="430.0" cy="737.9" rx="2.7" ry="1.7" transform="rotate(0 430.0 737.9)" fill-opacity="0.85"/><ellipse cx="368.3" cy="756.5" rx="2.3" ry="1.5" transform="rotate(49 368.3 756.5)" fill-opacity="0.79"/><ellipse cx="391.5" cy="737.8" rx="1.9" ry="2.2" transform="rotate(67 391.5 737.8)" fill-opacity="0.83"/><ellipse cx="431.5" cy="755.3" rx="2.5" ry="1.9" transform="rotate(13 431.5 755.3)" fill-opacity="0.55"/><ellipse cx="401.8" cy="723.8" rx="2.3" ry="2.2" transform="rotate(82 401.8 723.8)" fill-opacity="0.89"/><ellipse cx="415.3" cy="739.7" rx="2.4" ry="1.5" transform="rotate(158 415.3 739.7)" fill-opacity="0.70"/><ellipse cx="424.2" cy="717.4" rx="2.5" ry="2.0" transform="rotate(16 424.2 717.4)" fill-opacity="0.85"/><ellipse cx="408.5" cy="748.6" rx="2.1" ry="1.7" transform="rotate(175 408.5 748.6)" fill-opacity="0.62"/><ellipse cx="383.6" cy="706.5" rx="2.1" ry="1.7" transform="rotate(70 383.6 706.5)" fill-opacity="0.74"/><ellipse cx="422.2" cy="742.6" rx="2.5" ry="1.7" transform="rotate(89 422.2 742.6)" fill-opacity="0.79"/><ellipse cx="367.9" cy="717.4" rx="2.1" ry="1.8" transform="rotate(125 367.9 717.4)" fill-opacity="0.74"/><ellipse cx="406.6" cy="716.1" rx="2.0" ry="1.6" transform="rotate(120 406.6 716.1)" fill-opacity="0.56"/><ellipse cx="386.3" cy="736.1" rx="2.3" ry="1.6" transform="rotate(160 386.3 736.1)" fill-opacity="0.56"/><ellipse cx="367.1" cy="751.0" rx="2.4" ry="1.9" transform="rotate(115 367.1 751.0)" fill-opacity="0.76"/><ellipse cx="420.7" cy="737.1" rx="2.8" ry="2.1" transform="rotate(48 420.7 737.1)" fill-opacity="0.81"/></g>
</g>
</g>
<line x1="423.50" y1="752.80" x2="429.00" y2="752.80" stroke="#111" stroke-width="1.5"/>
<g clip-path="url(#c16)"><g filter="url(#ct16)">
<rect x="438.80" y="706.40" width="65.60" height="50.40" fill="#cdcad3" filter="url(#t16)"/>
</g>
</g>
<line x1="496.00" y1="752.80" x2="501.50" y2="752.80" stroke="#111" stroke-width="1.5"/></svg></body></html>
